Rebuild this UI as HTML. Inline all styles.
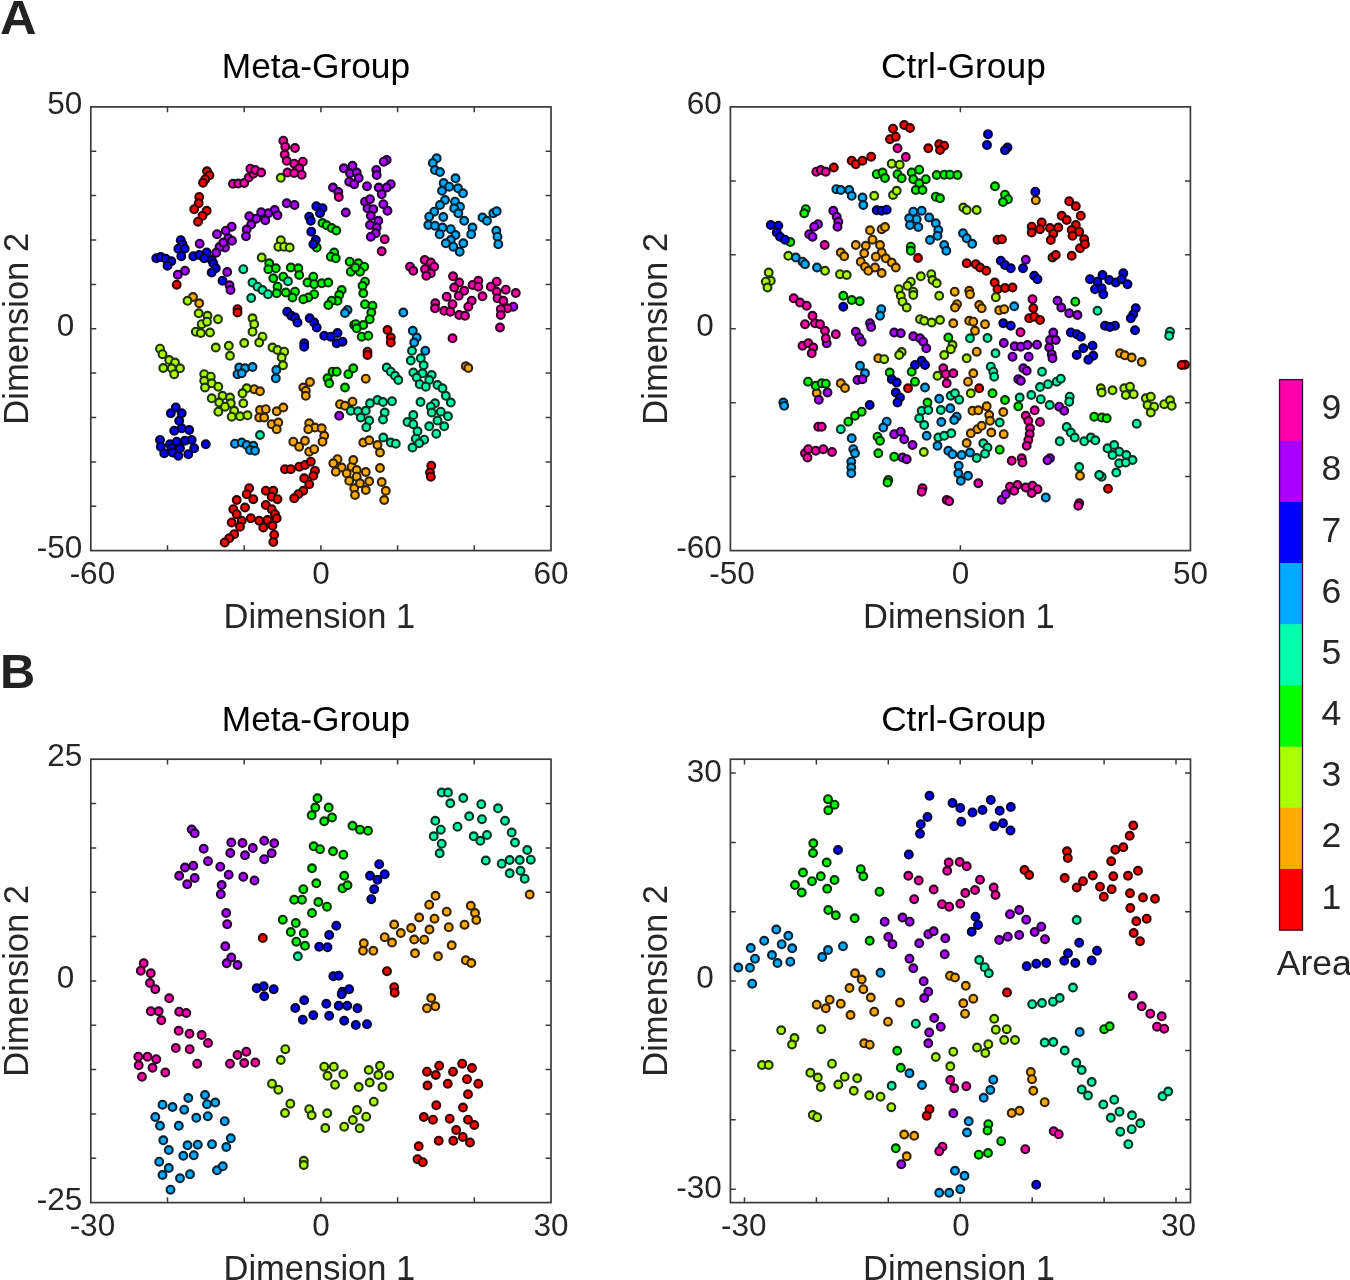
<!DOCTYPE html>
<html><head><meta charset="utf-8"><title>t-SNE</title>
<style>html,body{margin:0;padding:0;background:#fff}svg{display:block;font-family:"Liberation Sans",Arial,sans-serif}</style>
</head><body>
<svg width="1350" height="1280" viewBox="0 0 1350 1280">
<defs><filter id="soft" x="-5%" y="-5%" width="110%" height="110%"><feGaussianBlur stdDeviation="0.75"/></filter></defs>
<rect width="1350" height="1280" fill="#fff"/>
<g stroke-width="2.1" filter="url(#soft)">
<g fill="#ff0000" stroke="#330000"><circle cx="207.0" cy="171.3" r="3.9"/><circle cx="209.5" cy="175.3" r="3.9"/><circle cx="205.3" cy="179.2" r="3.9"/><circle cx="203.0" cy="182.8" r="3.9"/><circle cx="199.2" cy="197.0" r="3.9"/><circle cx="198.7" cy="203.3" r="3.9"/><circle cx="194.2" cy="209.2" r="3.9"/><circle cx="206.7" cy="210.8" r="3.9"/><circle cx="202.5" cy="215.8" r="3.9"/><circle cx="198.0" cy="221.7" r="3.9"/><circle cx="176.7" cy="284.7" r="3.9"/><circle cx="237.5" cy="309.2" r="3.9"/><circle cx="237.5" cy="312.5" r="3.9"/><circle cx="387.5" cy="330.0" r="3.9"/><circle cx="285.0" cy="469.2" r="3.9"/><circle cx="290.8" cy="469.2" r="3.9"/><circle cx="299.2" cy="466.7" r="3.9"/><circle cx="305.0" cy="465.0" r="3.9"/><circle cx="310.8" cy="461.7" r="3.9"/><circle cx="315.0" cy="470.8" r="3.9"/><circle cx="313.3" cy="475.8" r="3.9"/><circle cx="304.2" cy="478.3" r="3.9"/><circle cx="309.2" cy="484.2" r="3.9"/><circle cx="303.3" cy="490.8" r="3.9"/><circle cx="298.3" cy="494.2" r="3.9"/><circle cx="294.2" cy="498.3" r="3.9"/><circle cx="249.2" cy="488.3" r="3.9"/><circle cx="246.7" cy="494.2" r="3.9"/><circle cx="253.3" cy="499.2" r="3.9"/><circle cx="236.7" cy="500.0" r="3.9"/><circle cx="265.8" cy="490.8" r="3.9"/><circle cx="273.3" cy="490.8" r="3.9"/><circle cx="271.7" cy="496.7" r="3.9"/><circle cx="277.5" cy="499.2" r="3.9"/><circle cx="245.0" cy="507.5" r="3.9"/><circle cx="233.3" cy="509.2" r="3.9"/><circle cx="265.8" cy="505.0" r="3.9"/><circle cx="271.7" cy="509.2" r="3.9"/><circle cx="236.7" cy="514.2" r="3.9"/><circle cx="275.0" cy="514.2" r="3.9"/><circle cx="250.8" cy="518.3" r="3.9"/><circle cx="276.7" cy="518.3" r="3.9"/><circle cx="241.7" cy="520.8" r="3.9"/><circle cx="259.2" cy="520.8" r="3.9"/><circle cx="267.5" cy="520.0" r="3.9"/><circle cx="231.7" cy="522.5" r="3.9"/><circle cx="263.3" cy="527.5" r="3.9"/><circle cx="240.0" cy="526.7" r="3.9"/><circle cx="272.5" cy="525.8" r="3.9"/><circle cx="390.8" cy="337.5" r="3.9"/><circle cx="390.8" cy="342.5" r="3.9"/><circle cx="367.5" cy="351.7" r="3.9"/><circle cx="367.5" cy="355.0" r="3.9"/><circle cx="431.3" cy="465.8" r="3.9"/><circle cx="430.0" cy="472.5" r="3.9"/><circle cx="430.8" cy="476.7" r="3.9"/><circle cx="234.2" cy="534.2" r="3.9"/><circle cx="229.2" cy="538.3" r="3.9"/><circle cx="224.7" cy="542.5" r="3.9"/><circle cx="274.2" cy="534.7" r="3.9"/><circle cx="273.3" cy="542.0" r="3.9"/></g>
<g fill="#ffaa00" stroke="#332200"><circle cx="193.0" cy="297.0" r="3.9"/><circle cx="199.2" cy="303.3" r="3.9"/><circle cx="254.2" cy="389.2" r="3.9"/><circle cx="260.0" cy="391.3" r="3.9"/><circle cx="310.0" cy="382.0" r="3.9"/><circle cx="303.3" cy="387.5" r="3.9"/><circle cx="305.8" cy="390.8" r="3.9"/><circle cx="305.8" cy="395.8" r="3.9"/><circle cx="260.0" cy="410.0" r="3.9"/><circle cx="265.8" cy="409.2" r="3.9"/><circle cx="259.2" cy="417.5" r="3.9"/><circle cx="264.2" cy="417.5" r="3.9"/><circle cx="276.7" cy="411.3" r="3.9"/><circle cx="283.3" cy="407.5" r="3.9"/><circle cx="271.7" cy="424.2" r="3.9"/><circle cx="278.3" cy="422.5" r="3.9"/><circle cx="276.7" cy="429.2" r="3.9"/><circle cx="309.2" cy="423.3" r="3.9"/><circle cx="315.0" cy="427.5" r="3.9"/><circle cx="321.7" cy="428.3" r="3.9"/><circle cx="308.3" cy="429.2" r="3.9"/><circle cx="324.2" cy="435.8" r="3.9"/><circle cx="322.5" cy="441.7" r="3.9"/><circle cx="293.3" cy="441.7" r="3.9"/><circle cx="299.2" cy="446.7" r="3.9"/><circle cx="305.0" cy="440.8" r="3.9"/><circle cx="309.2" cy="451.7" r="3.9"/><circle cx="314.2" cy="449.2" r="3.9"/><circle cx="337.5" cy="459.2" r="3.9"/><circle cx="333.3" cy="463.3" r="3.9"/><circle cx="341.7" cy="467.5" r="3.9"/><circle cx="335.8" cy="471.7" r="3.9"/><circle cx="346.7" cy="473.3" r="3.9"/><circle cx="351.7" cy="466.7" r="3.9"/><circle cx="353.3" cy="460.0" r="3.9"/><circle cx="349.2" cy="480.8" r="3.9"/><circle cx="354.2" cy="488.3" r="3.9"/><circle cx="355.0" cy="495.0" r="3.9"/><circle cx="340.0" cy="404.2" r="3.9"/><circle cx="345.0" cy="405.8" r="3.9"/><circle cx="352.5" cy="401.7" r="3.9"/><circle cx="465.8" cy="366.3" r="3.9"/><circle cx="468.3" cy="368.0" r="3.9"/><circle cx="365.8" cy="378.7" r="3.9"/><circle cx="363.3" cy="442.5" r="3.9"/><circle cx="369.2" cy="440.3" r="3.9"/><circle cx="377.5" cy="445.0" r="3.9"/><circle cx="380.0" cy="452.5" r="3.9"/><circle cx="380.0" cy="468.0" r="3.9"/><circle cx="381.7" cy="482.0" r="3.9"/><circle cx="385.8" cy="490.8" r="3.9"/><circle cx="384.2" cy="500.0" r="3.9"/><circle cx="356.7" cy="470.0" r="3.9"/><circle cx="365.8" cy="472.0" r="3.9"/><circle cx="356.7" cy="476.7" r="3.9"/><circle cx="360.0" cy="483.3" r="3.9"/><circle cx="369.2" cy="481.3" r="3.9"/><circle cx="365.8" cy="490.0" r="3.9"/></g>
<g fill="#aaff00" stroke="#223300"><circle cx="280.8" cy="177.8" r="3.9"/><circle cx="280.8" cy="240.3" r="3.9"/><circle cx="278.3" cy="246.7" r="3.9"/><circle cx="284.2" cy="246.7" r="3.9"/><circle cx="289.7" cy="247.5" r="3.9"/><circle cx="261.7" cy="257.5" r="3.9"/><circle cx="187.5" cy="300.8" r="3.9"/><circle cx="198.7" cy="313.3" r="3.9"/><circle cx="207.5" cy="315.8" r="3.9"/><circle cx="218.0" cy="319.2" r="3.9"/><circle cx="201.7" cy="324.2" r="3.9"/><circle cx="207.0" cy="321.7" r="3.9"/><circle cx="252.5" cy="318.3" r="3.9"/><circle cx="254.2" cy="324.2" r="3.9"/><circle cx="195.8" cy="331.7" r="3.9"/><circle cx="210.0" cy="332.5" r="3.9"/><circle cx="252.5" cy="331.7" r="3.9"/><circle cx="200.8" cy="333.0" r="3.9"/><circle cx="262.5" cy="336.7" r="3.9"/><circle cx="259.2" cy="342.5" r="3.9"/><circle cx="244.2" cy="343.0" r="3.9"/><circle cx="215.8" cy="347.5" r="3.9"/><circle cx="228.8" cy="345.8" r="3.9"/><circle cx="230.0" cy="355.8" r="3.9"/><circle cx="160.0" cy="348.7" r="3.9"/><circle cx="162.5" cy="354.2" r="3.9"/><circle cx="169.2" cy="360.0" r="3.9"/><circle cx="175.0" cy="362.5" r="3.9"/><circle cx="163.3" cy="368.0" r="3.9"/><circle cx="171.7" cy="368.3" r="3.9"/><circle cx="180.0" cy="368.3" r="3.9"/><circle cx="174.2" cy="374.2" r="3.9"/><circle cx="272.5" cy="347.5" r="3.9"/><circle cx="277.5" cy="350.0" r="3.9"/><circle cx="284.2" cy="351.7" r="3.9"/><circle cx="281.7" cy="357.5" r="3.9"/><circle cx="283.0" cy="365.3" r="3.9"/><circle cx="204.2" cy="374.2" r="3.9"/><circle cx="210.8" cy="376.7" r="3.9"/><circle cx="204.2" cy="380.8" r="3.9"/><circle cx="211.7" cy="383.3" r="3.9"/><circle cx="205.0" cy="387.5" r="3.9"/><circle cx="218.3" cy="386.7" r="3.9"/><circle cx="222.5" cy="395.8" r="3.9"/><circle cx="230.0" cy="397.5" r="3.9"/><circle cx="211.7" cy="398.3" r="3.9"/><circle cx="219.2" cy="402.5" r="3.9"/><circle cx="230.8" cy="403.3" r="3.9"/><circle cx="225.0" cy="406.7" r="3.9"/><circle cx="218.3" cy="411.7" r="3.9"/><circle cx="234.2" cy="410.8" r="3.9"/><circle cx="231.7" cy="416.7" r="3.9"/><circle cx="240.0" cy="416.3" r="3.9"/><circle cx="247.5" cy="415.3" r="3.9"/><circle cx="246.7" cy="388.3" r="3.9"/><circle cx="242.5" cy="393.3" r="3.9"/><circle cx="243.3" cy="403.3" r="3.9"/></g>
<g fill="#00ff00" stroke="#003300"><circle cx="322.5" cy="223.0" r="3.9"/><circle cx="326.7" cy="225.3" r="3.9"/><circle cx="331.7" cy="228.0" r="3.9"/><circle cx="336.3" cy="230.5" r="3.9"/><circle cx="316.7" cy="247.5" r="3.9"/><circle cx="334.2" cy="252.5" r="3.9"/><circle cx="330.8" cy="256.7" r="3.9"/><circle cx="335.8" cy="258.3" r="3.9"/><circle cx="349.7" cy="261.7" r="3.9"/><circle cx="350.8" cy="271.7" r="3.9"/><circle cx="269.2" cy="263.3" r="3.9"/><circle cx="275.8" cy="268.3" r="3.9"/><circle cx="268.3" cy="269.2" r="3.9"/><circle cx="290.8" cy="267.5" r="3.9"/><circle cx="298.3" cy="268.3" r="3.9"/><circle cx="299.2" cy="275.0" r="3.9"/><circle cx="283.3" cy="276.7" r="3.9"/><circle cx="273.3" cy="278.3" r="3.9"/><circle cx="313.3" cy="276.7" r="3.9"/><circle cx="307.5" cy="282.5" r="3.9"/><circle cx="314.2" cy="284.2" r="3.9"/><circle cx="321.7" cy="283.3" r="3.9"/><circle cx="328.3" cy="282.5" r="3.9"/><circle cx="277.5" cy="286.7" r="3.9"/><circle cx="276.7" cy="293.3" r="3.9"/><circle cx="285.8" cy="292.5" r="3.9"/><circle cx="295.0" cy="291.7" r="3.9"/><circle cx="292.5" cy="297.5" r="3.9"/><circle cx="314.2" cy="294.2" r="3.9"/><circle cx="308.3" cy="297.5" r="3.9"/><circle cx="303.3" cy="299.2" r="3.9"/><circle cx="341.7" cy="290.0" r="3.9"/><circle cx="339.2" cy="295.0" r="3.9"/><circle cx="337.5" cy="300.8" r="3.9"/><circle cx="331.7" cy="300.8" r="3.9"/><circle cx="328.3" cy="305.0" r="3.9"/><circle cx="354.2" cy="325.0" r="3.9"/><circle cx="358.3" cy="263.3" r="3.9"/><circle cx="364.2" cy="266.7" r="3.9"/><circle cx="360.0" cy="271.7" r="3.9"/><circle cx="355.3" cy="267.5" r="3.9"/><circle cx="365.0" cy="281.7" r="3.9"/><circle cx="362.5" cy="285.8" r="3.9"/><circle cx="363.3" cy="293.3" r="3.9"/><circle cx="365.0" cy="304.2" r="3.9"/><circle cx="372.5" cy="305.8" r="3.9"/><circle cx="371.3" cy="312.5" r="3.9"/><circle cx="369.7" cy="319.2" r="3.9"/><circle cx="363.3" cy="325.0" r="3.9"/><circle cx="355.8" cy="324.2" r="3.9"/><circle cx="356.7" cy="328.3" r="3.9"/><circle cx="332.5" cy="371.7" r="3.9"/><circle cx="327.5" cy="378.3" r="3.9"/><circle cx="329.2" cy="383.3" r="3.9"/><circle cx="336.7" cy="371.7" r="3.9"/><circle cx="345.0" cy="387.5" r="3.9"/><circle cx="348.3" cy="374.2" r="3.9"/><circle cx="353.3" cy="368.3" r="3.9"/><circle cx="361.7" cy="336.7" r="3.9"/><circle cx="368.3" cy="335.8" r="3.9"/></g>
<g fill="#00ffaa" stroke="#003322"><circle cx="243.3" cy="269.2" r="3.9"/><circle cx="252.5" cy="282.5" r="3.9"/><circle cx="257.5" cy="286.7" r="3.9"/><circle cx="262.5" cy="290.0" r="3.9"/><circle cx="268.0" cy="294.2" r="3.9"/><circle cx="251.2" cy="298.0" r="3.9"/><circle cx="288.0" cy="281.3" r="3.9"/><circle cx="260.0" cy="435.0" r="3.9"/><circle cx="350.8" cy="410.8" r="3.9"/><circle cx="412.0" cy="350.8" r="3.9"/><circle cx="410.8" cy="360.5" r="3.9"/><circle cx="420.8" cy="358.3" r="3.9"/><circle cx="423.7" cy="365.3" r="3.9"/><circle cx="413.3" cy="372.5" r="3.9"/><circle cx="422.5" cy="373.3" r="3.9"/><circle cx="416.7" cy="377.5" r="3.9"/><circle cx="431.7" cy="375.0" r="3.9"/><circle cx="429.2" cy="380.0" r="3.9"/><circle cx="419.7" cy="384.2" r="3.9"/><circle cx="425.8" cy="386.7" r="3.9"/><circle cx="437.5" cy="385.0" r="3.9"/><circle cx="442.5" cy="388.3" r="3.9"/><circle cx="445.8" cy="395.8" r="3.9"/><circle cx="450.8" cy="402.5" r="3.9"/><circle cx="386.7" cy="367.5" r="3.9"/><circle cx="390.8" cy="371.7" r="3.9"/><circle cx="395.0" cy="375.8" r="3.9"/><circle cx="398.3" cy="380.0" r="3.9"/><circle cx="420.5" cy="402.0" r="3.9"/><circle cx="435.0" cy="403.3" r="3.9"/><circle cx="430.8" cy="406.7" r="3.9"/><circle cx="431.7" cy="412.5" r="3.9"/><circle cx="440.8" cy="411.7" r="3.9"/><circle cx="448.0" cy="416.3" r="3.9"/><circle cx="437.5" cy="420.5" r="3.9"/><circle cx="429.2" cy="426.3" r="3.9"/><circle cx="444.2" cy="426.3" r="3.9"/><circle cx="436.3" cy="433.7" r="3.9"/><circle cx="413.3" cy="415.0" r="3.9"/><circle cx="407.5" cy="422.0" r="3.9"/><circle cx="413.3" cy="424.2" r="3.9"/><circle cx="417.5" cy="431.3" r="3.9"/><circle cx="415.8" cy="438.7" r="3.9"/><circle cx="424.2" cy="439.7" r="3.9"/><circle cx="419.2" cy="443.3" r="3.9"/><circle cx="412.5" cy="447.5" r="3.9"/><circle cx="370.0" cy="403.3" r="3.9"/><circle cx="377.5" cy="400.0" r="3.9"/><circle cx="383.0" cy="402.0" r="3.9"/><circle cx="392.0" cy="401.3" r="3.9"/><circle cx="358.0" cy="411.3" r="3.9"/><circle cx="365.8" cy="410.8" r="3.9"/><circle cx="360.8" cy="417.5" r="3.9"/><circle cx="369.2" cy="420.5" r="3.9"/><circle cx="366.3" cy="427.2" r="3.9"/><circle cx="384.7" cy="412.5" r="3.9"/><circle cx="383.0" cy="419.5" r="3.9"/><circle cx="383.3" cy="437.5" r="3.9"/><circle cx="390.8" cy="442.5" r="3.9"/><circle cx="395.8" cy="443.7" r="3.9"/></g>
<g fill="#00aaff" stroke="#002233"><circle cx="347.5" cy="310.0" r="3.9"/><circle cx="345.0" cy="313.0" r="3.9"/><circle cx="436.7" cy="158.3" r="3.9"/><circle cx="432.8" cy="163.0" r="3.9"/><circle cx="435.0" cy="170.0" r="3.9"/><circle cx="440.0" cy="172.0" r="3.9"/><circle cx="455.5" cy="178.3" r="3.9"/><circle cx="443.7" cy="183.0" r="3.9"/><circle cx="449.2" cy="186.7" r="3.9"/><circle cx="442.0" cy="190.8" r="3.9"/><circle cx="458.0" cy="188.3" r="3.9"/><circle cx="463.0" cy="193.3" r="3.9"/><circle cx="445.0" cy="200.0" r="3.9"/><circle cx="455.0" cy="201.7" r="3.9"/><circle cx="440.0" cy="205.0" r="3.9"/><circle cx="460.0" cy="206.7" r="3.9"/><circle cx="454.2" cy="208.3" r="3.9"/><circle cx="458.3" cy="213.3" r="3.9"/><circle cx="434.2" cy="211.7" r="3.9"/><circle cx="429.2" cy="216.7" r="3.9"/><circle cx="443.3" cy="217.0" r="3.9"/><circle cx="464.2" cy="220.8" r="3.9"/><circle cx="428.3" cy="225.0" r="3.9"/><circle cx="435.0" cy="225.8" r="3.9"/><circle cx="442.5" cy="227.5" r="3.9"/><circle cx="450.8" cy="229.2" r="3.9"/><circle cx="472.5" cy="227.5" r="3.9"/><circle cx="471.2" cy="234.2" r="3.9"/><circle cx="439.7" cy="234.2" r="3.9"/><circle cx="455.5" cy="235.0" r="3.9"/><circle cx="450.8" cy="240.0" r="3.9"/><circle cx="445.8" cy="243.3" r="3.9"/><circle cx="463.3" cy="243.3" r="3.9"/><circle cx="453.3" cy="246.7" r="3.9"/><circle cx="459.7" cy="251.7" r="3.9"/><circle cx="482.5" cy="217.5" r="3.9"/><circle cx="487.0" cy="220.8" r="3.9"/><circle cx="493.3" cy="213.3" r="3.9"/><circle cx="496.7" cy="211.3" r="3.9"/><circle cx="496.3" cy="230.8" r="3.9"/><circle cx="497.5" cy="236.7" r="3.9"/><circle cx="498.3" cy="244.2" r="3.9"/><circle cx="403.3" cy="312.5" r="3.9"/><circle cx="412.8" cy="330.8" r="3.9"/><circle cx="239.2" cy="367.5" r="3.9"/><circle cx="245.0" cy="368.3" r="3.9"/><circle cx="252.5" cy="367.0" r="3.9"/><circle cx="237.5" cy="374.2" r="3.9"/><circle cx="241.7" cy="373.3" r="3.9"/><circle cx="276.3" cy="370.0" r="3.9"/><circle cx="275.8" cy="378.3" r="3.9"/><circle cx="235.0" cy="443.7" r="3.9"/><circle cx="241.7" cy="442.5" r="3.9"/><circle cx="246.7" cy="445.0" r="3.9"/><circle cx="253.3" cy="445.8" r="3.9"/><circle cx="250.0" cy="450.0" r="3.9"/><circle cx="255.0" cy="450.8" r="3.9"/><circle cx="416.7" cy="337.5" r="3.9"/><circle cx="414.2" cy="342.5" r="3.9"/><circle cx="425.3" cy="350.8" r="3.9"/></g>
<g fill="#0000ff" stroke="#000033"><circle cx="180.8" cy="240.3" r="3.9"/><circle cx="182.5" cy="244.2" r="3.9"/><circle cx="178.3" cy="248.7" r="3.9"/><circle cx="184.7" cy="248.7" r="3.9"/><circle cx="181.3" cy="256.2" r="3.9"/><circle cx="156.3" cy="258.3" r="3.9"/><circle cx="160.8" cy="257.0" r="3.9"/><circle cx="165.8" cy="258.7" r="3.9"/><circle cx="171.3" cy="261.3" r="3.9"/><circle cx="167.5" cy="265.8" r="3.9"/><circle cx="193.3" cy="256.2" r="3.9"/><circle cx="199.2" cy="255.0" r="3.9"/><circle cx="206.7" cy="252.5" r="3.9"/><circle cx="204.2" cy="258.3" r="3.9"/><circle cx="211.7" cy="260.0" r="3.9"/><circle cx="213.3" cy="263.3" r="3.9"/><circle cx="215.8" cy="268.3" r="3.9"/><circle cx="211.7" cy="272.5" r="3.9"/><circle cx="222.5" cy="280.8" r="3.9"/><circle cx="316.3" cy="206.3" r="3.9"/><circle cx="322.5" cy="208.3" r="3.9"/><circle cx="320.0" cy="213.3" r="3.9"/><circle cx="309.2" cy="216.7" r="3.9"/><circle cx="310.8" cy="220.8" r="3.9"/><circle cx="311.3" cy="231.7" r="3.9"/><circle cx="315.8" cy="240.0" r="3.9"/><circle cx="313.3" cy="244.2" r="3.9"/><circle cx="287.2" cy="311.7" r="3.9"/><circle cx="291.3" cy="315.8" r="3.9"/><circle cx="295.0" cy="317.5" r="3.9"/><circle cx="297.5" cy="322.5" r="3.9"/><circle cx="309.7" cy="318.3" r="3.9"/><circle cx="314.2" cy="322.5" r="3.9"/><circle cx="316.7" cy="327.5" r="3.9"/><circle cx="304.2" cy="343.3" r="3.9"/><circle cx="304.2" cy="346.7" r="3.9"/><circle cx="324.2" cy="335.8" r="3.9"/><circle cx="330.8" cy="336.7" r="3.9"/><circle cx="337.5" cy="333.0" r="3.9"/><circle cx="336.7" cy="343.3" r="3.9"/><circle cx="342.5" cy="341.7" r="3.9"/><circle cx="170.8" cy="413.3" r="3.9"/><circle cx="175.8" cy="407.5" r="3.9"/><circle cx="181.7" cy="413.3" r="3.9"/><circle cx="179.2" cy="420.8" r="3.9"/><circle cx="174.2" cy="430.8" r="3.9"/><circle cx="181.7" cy="428.3" r="3.9"/><circle cx="189.2" cy="430.0" r="3.9"/><circle cx="160.0" cy="440.0" r="3.9"/><circle cx="170.0" cy="444.2" r="3.9"/><circle cx="176.7" cy="441.7" r="3.9"/><circle cx="185.0" cy="440.8" r="3.9"/><circle cx="191.7" cy="440.0" r="3.9"/><circle cx="160.8" cy="446.7" r="3.9"/><circle cx="171.7" cy="448.3" r="3.9"/><circle cx="180.0" cy="448.3" r="3.9"/><circle cx="194.2" cy="448.3" r="3.9"/><circle cx="164.2" cy="453.3" r="3.9"/><circle cx="172.5" cy="452.5" r="3.9"/><circle cx="178.3" cy="455.8" r="3.9"/><circle cx="188.3" cy="454.2" r="3.9"/><circle cx="205.8" cy="444.2" r="3.9"/></g>
<g fill="#aa00ff" stroke="#220033"><circle cx="343.8" cy="168.3" r="3.9"/><circle cx="352.5" cy="165.8" r="3.9"/><circle cx="350.0" cy="173.3" r="3.9"/><circle cx="349.2" cy="181.7" r="3.9"/><circle cx="354.2" cy="184.2" r="3.9"/><circle cx="333.0" cy="187.5" r="3.9"/><circle cx="338.3" cy="192.0" r="3.9"/><circle cx="345.8" cy="212.5" r="3.9"/><circle cx="286.7" cy="203.3" r="3.9"/><circle cx="294.5" cy="205.0" r="3.9"/><circle cx="274.7" cy="210.0" r="3.9"/><circle cx="277.5" cy="215.3" r="3.9"/><circle cx="268.3" cy="213.3" r="3.9"/><circle cx="261.2" cy="212.2" r="3.9"/><circle cx="265.3" cy="220.3" r="3.9"/><circle cx="256.2" cy="218.7" r="3.9"/><circle cx="249.3" cy="216.3" r="3.9"/><circle cx="251.2" cy="224.5" r="3.9"/><circle cx="246.7" cy="229.5" r="3.9"/><circle cx="246.0" cy="236.2" r="3.9"/><circle cx="231.7" cy="226.7" r="3.9"/><circle cx="225.8" cy="230.8" r="3.9"/><circle cx="217.0" cy="234.2" r="3.9"/><circle cx="228.3" cy="238.3" r="3.9"/><circle cx="232.0" cy="240.8" r="3.9"/><circle cx="225.0" cy="247.5" r="3.9"/><circle cx="219.5" cy="247.0" r="3.9"/><circle cx="216.2" cy="252.8" r="3.9"/><circle cx="223.3" cy="242.5" r="3.9"/><circle cx="199.7" cy="243.7" r="3.9"/><circle cx="185.0" cy="270.8" r="3.9"/><circle cx="177.8" cy="274.7" r="3.9"/><circle cx="227.2" cy="272.0" r="3.9"/><circle cx="229.5" cy="285.3" r="3.9"/><circle cx="230.5" cy="290.0" r="3.9"/><circle cx="356.7" cy="172.5" r="3.9"/><circle cx="358.7" cy="178.0" r="3.9"/><circle cx="367.0" cy="186.2" r="3.9"/><circle cx="386.7" cy="160.0" r="3.9"/><circle cx="383.7" cy="161.7" r="3.9"/><circle cx="376.3" cy="170.0" r="3.9"/><circle cx="376.7" cy="175.0" r="3.9"/><circle cx="390.8" cy="184.2" r="3.9"/><circle cx="386.7" cy="187.5" r="3.9"/><circle cx="378.7" cy="187.5" r="3.9"/><circle cx="381.7" cy="194.2" r="3.9"/><circle cx="383.3" cy="204.2" r="3.9"/><circle cx="387.5" cy="210.8" r="3.9"/><circle cx="365.0" cy="201.7" r="3.9"/><circle cx="370.0" cy="199.2" r="3.9"/><circle cx="367.5" cy="208.3" r="3.9"/><circle cx="373.3" cy="209.2" r="3.9"/><circle cx="370.8" cy="215.8" r="3.9"/><circle cx="378.3" cy="220.8" r="3.9"/><circle cx="370.0" cy="225.0" r="3.9"/><circle cx="376.7" cy="227.5" r="3.9"/><circle cx="375.8" cy="233.3" r="3.9"/><circle cx="370.8" cy="236.7" r="3.9"/><circle cx="513.3" cy="306.7" r="3.9"/><circle cx="339.2" cy="415.8" r="3.9"/></g>
<g fill="#ff00aa" stroke="#330022"><circle cx="283.3" cy="140.8" r="3.9"/><circle cx="285.3" cy="146.7" r="3.9"/><circle cx="295.0" cy="148.0" r="3.9"/><circle cx="284.7" cy="154.5" r="3.9"/><circle cx="286.7" cy="160.8" r="3.9"/><circle cx="294.2" cy="163.7" r="3.9"/><circle cx="302.8" cy="161.7" r="3.9"/><circle cx="299.2" cy="168.3" r="3.9"/><circle cx="287.5" cy="172.5" r="3.9"/><circle cx="294.2" cy="173.0" r="3.9"/><circle cx="301.7" cy="174.7" r="3.9"/><circle cx="233.0" cy="183.8" r="3.9"/><circle cx="238.3" cy="183.5" r="3.9"/><circle cx="244.2" cy="183.0" r="3.9"/><circle cx="248.7" cy="177.5" r="3.9"/><circle cx="253.3" cy="173.7" r="3.9"/><circle cx="250.3" cy="168.7" r="3.9"/><circle cx="255.3" cy="170.0" r="3.9"/><circle cx="261.2" cy="172.5" r="3.9"/><circle cx="338.8" cy="197.0" r="3.9"/><circle cx="384.7" cy="239.2" r="3.9"/><circle cx="381.7" cy="251.3" r="3.9"/><circle cx="410.0" cy="266.7" r="3.9"/><circle cx="413.3" cy="270.8" r="3.9"/><circle cx="424.7" cy="260.0" r="3.9"/><circle cx="430.8" cy="262.5" r="3.9"/><circle cx="434.2" cy="266.7" r="3.9"/><circle cx="425.0" cy="269.2" r="3.9"/><circle cx="430.8" cy="273.3" r="3.9"/><circle cx="426.3" cy="275.8" r="3.9"/><circle cx="453.0" cy="276.3" r="3.9"/><circle cx="459.2" cy="282.5" r="3.9"/><circle cx="454.2" cy="287.5" r="3.9"/><circle cx="464.2" cy="290.8" r="3.9"/><circle cx="458.7" cy="295.8" r="3.9"/><circle cx="446.7" cy="296.7" r="3.9"/><circle cx="452.5" cy="304.2" r="3.9"/><circle cx="435.3" cy="303.3" r="3.9"/><circle cx="435.0" cy="308.3" r="3.9"/><circle cx="444.2" cy="310.8" r="3.9"/><circle cx="450.3" cy="311.7" r="3.9"/><circle cx="459.2" cy="315.0" r="3.9"/><circle cx="465.0" cy="315.8" r="3.9"/><circle cx="471.7" cy="300.8" r="3.9"/><circle cx="468.3" cy="306.7" r="3.9"/><circle cx="478.3" cy="280.8" r="3.9"/><circle cx="472.5" cy="285.0" r="3.9"/><circle cx="478.3" cy="286.7" r="3.9"/><circle cx="482.5" cy="296.3" r="3.9"/><circle cx="496.7" cy="281.7" r="3.9"/><circle cx="490.8" cy="286.7" r="3.9"/><circle cx="496.7" cy="291.7" r="3.9"/><circle cx="505.8" cy="289.7" r="3.9"/><circle cx="515.8" cy="293.0" r="3.9"/><circle cx="497.5" cy="298.3" r="3.9"/><circle cx="503.3" cy="300.8" r="3.9"/><circle cx="507.5" cy="308.3" r="3.9"/><circle cx="500.8" cy="309.2" r="3.9"/><circle cx="500.8" cy="315.0" r="3.9"/><circle cx="500.0" cy="327.5" r="3.9"/><circle cx="452.5" cy="338.3" r="3.9"/></g>
</g>
<rect x="90.8" y="106.9" width="460.2" height="443.70000000000005" fill="none" stroke="#3a3a3a" stroke-width="1.7"/>
<path d="M167.5 550.6v-5.4M167.5 106.9v5.4M244.2 550.6v-5.4M244.2 106.9v5.4M320.9 550.6v-5.4M320.9 106.9v5.4M397.6 550.6v-5.4M397.6 106.9v5.4M474.3 550.6v-5.4M474.3 106.9v5.4M90.8 151.3h5.4M551 151.3h-5.4M90.8 195.6h5.4M551 195.6h-5.4M90.8 240.0h5.4M551 240.0h-5.4M90.8 284.4h5.4M551 284.4h-5.4M90.8 328.8h5.4M551 328.8h-5.4M90.8 373.1h5.4M551 373.1h-5.4M90.8 417.5h5.4M551 417.5h-5.4M90.8 461.9h5.4M551 461.9h-5.4M90.8 506.2h5.4M551 506.2h-5.4" stroke="#3a3a3a" stroke-width="1.5" fill="none"/>
<text x="92.4" y="583.8" font-size="31.5" text-anchor="middle" fill="#262626">-60</text>
<text x="320.9" y="583.8" font-size="31.5" text-anchor="middle" fill="#262626">0</text>
<text x="551.0" y="583.8" font-size="31.5" text-anchor="middle" fill="#262626">60</text>
<text x="82.3" y="114.0" font-size="31.5" text-anchor="end" fill="#262626">50</text>
<text x="74.3" y="335.9" font-size="31.5" text-anchor="end" fill="#262626">0</text>
<text x="82.3" y="557.7" font-size="31.5" text-anchor="end" fill="#262626">-50</text>
<text x="315.9" y="78.4" font-size="35.3" text-anchor="middle" fill="#000">Meta-Group</text>
<text x="319.4" y="627.6" font-size="34.5" text-anchor="middle" fill="#262626">Dimension 1</text>
<text transform="translate(27.799999999999997,328.8) rotate(-90)" font-size="34.5" text-anchor="middle" fill="#262626">Dimension 2</text>
<g stroke-width="2.1" filter="url(#soft)">
<g fill="#ff0000" stroke="#330000"><circle cx="893.0" cy="128.7" r="3.9"/><circle cx="904.2" cy="125.0" r="3.9"/><circle cx="910.0" cy="128.0" r="3.9"/><circle cx="890.0" cy="139.2" r="3.9"/><circle cx="895.8" cy="136.7" r="3.9"/><circle cx="928.3" cy="148.3" r="3.9"/><circle cx="939.2" cy="144.2" r="3.9"/><circle cx="944.2" cy="145.8" r="3.9"/><circle cx="940.0" cy="150.0" r="3.9"/><circle cx="851.7" cy="160.8" r="3.9"/><circle cx="855.8" cy="164.2" r="3.9"/><circle cx="862.5" cy="160.8" r="3.9"/><circle cx="871.2" cy="156.7" r="3.9"/><circle cx="833.8" cy="167.5" r="3.9"/><circle cx="918.0" cy="258.0" r="3.9"/><circle cx="966.7" cy="263.3" r="3.9"/><circle cx="975.8" cy="264.2" r="3.9"/><circle cx="980.0" cy="267.5" r="3.9"/><circle cx="1069.2" cy="201.3" r="3.9"/><circle cx="1075.8" cy="206.3" r="3.9"/><circle cx="1080.8" cy="215.8" r="3.9"/><circle cx="1061.7" cy="215.8" r="3.9"/><circle cx="1066.7" cy="220.0" r="3.9"/><circle cx="1075.8" cy="225.0" r="3.9"/><circle cx="1041.7" cy="222.5" r="3.9"/><circle cx="1031.7" cy="226.7" r="3.9"/><circle cx="1040.0" cy="229.2" r="3.9"/><circle cx="1050.0" cy="228.0" r="3.9"/><circle cx="1058.3" cy="227.5" r="3.9"/><circle cx="1031.7" cy="232.5" r="3.9"/><circle cx="1053.3" cy="233.7" r="3.9"/><circle cx="1050.8" cy="240.0" r="3.9"/><circle cx="1071.7" cy="230.0" r="3.9"/><circle cx="1079.2" cy="231.7" r="3.9"/><circle cx="1072.5" cy="235.8" r="3.9"/><circle cx="1084.2" cy="239.2" r="3.9"/><circle cx="1080.0" cy="248.3" r="3.9"/><circle cx="1085.0" cy="244.2" r="3.9"/><circle cx="997.5" cy="239.7" r="3.9"/><circle cx="1002.0" cy="239.2" r="3.9"/><circle cx="1052.5" cy="257.5" r="3.9"/><circle cx="1055.8" cy="255.0" r="3.9"/><circle cx="1071.7" cy="255.8" r="3.9"/><circle cx="986.3" cy="270.8" r="3.9"/><circle cx="994.7" cy="282.5" r="3.9"/><circle cx="997.5" cy="289.2" r="3.9"/><circle cx="1005.0" cy="288.0" r="3.9"/><circle cx="1012.5" cy="287.5" r="3.9"/><circle cx="1033.3" cy="308.3" r="3.9"/><circle cx="1029.2" cy="318.3" r="3.9"/><circle cx="1034.2" cy="316.7" r="3.9"/><circle cx="1040.0" cy="320.0" r="3.9"/><circle cx="908.0" cy="388.3" r="3.9"/><circle cx="979.2" cy="388.3" r="3.9"/><circle cx="1185.0" cy="364.7" r="3.9"/><circle cx="1181.7" cy="365.0" r="3.9"/><circle cx="1108.0" cy="488.7" r="3.9"/></g>
<g fill="#ffaa00" stroke="#332200"><circle cx="870.0" cy="230.3" r="3.9"/><circle cx="881.7" cy="229.2" r="3.9"/><circle cx="885.0" cy="227.0" r="3.9"/><circle cx="872.5" cy="239.7" r="3.9"/><circle cx="855.8" cy="245.0" r="3.9"/><circle cx="865.8" cy="245.8" r="3.9"/><circle cx="880.0" cy="245.0" r="3.9"/><circle cx="864.2" cy="253.3" r="3.9"/><circle cx="881.7" cy="252.5" r="3.9"/><circle cx="875.8" cy="256.7" r="3.9"/><circle cx="885.8" cy="258.3" r="3.9"/><circle cx="860.8" cy="261.7" r="3.9"/><circle cx="891.7" cy="262.5" r="3.9"/><circle cx="865.0" cy="266.7" r="3.9"/><circle cx="875.0" cy="267.5" r="3.9"/><circle cx="895.8" cy="267.5" r="3.9"/><circle cx="868.3" cy="270.8" r="3.9"/><circle cx="881.7" cy="273.0" r="3.9"/><circle cx="840.8" cy="252.5" r="3.9"/><circle cx="844.2" cy="256.3" r="3.9"/><circle cx="954.7" cy="291.7" r="3.9"/><circle cx="969.2" cy="290.8" r="3.9"/><circle cx="970.0" cy="294.2" r="3.9"/><circle cx="957.0" cy="304.2" r="3.9"/><circle cx="955.0" cy="307.5" r="3.9"/><circle cx="979.2" cy="305.0" r="3.9"/><circle cx="953.3" cy="323.3" r="3.9"/><circle cx="969.2" cy="320.8" r="3.9"/><circle cx="973.3" cy="321.7" r="3.9"/><circle cx="1035.8" cy="200.3" r="3.9"/><circle cx="981.7" cy="308.3" r="3.9"/><circle cx="999.2" cy="310.3" r="3.9"/><circle cx="1004.2" cy="309.2" r="3.9"/><circle cx="985.0" cy="324.2" r="3.9"/><circle cx="878.3" cy="358.3" r="3.9"/><circle cx="975.0" cy="330.8" r="3.9"/><circle cx="976.7" cy="351.7" r="3.9"/><circle cx="973.3" cy="373.3" r="3.9"/><circle cx="968.0" cy="381.7" r="3.9"/><circle cx="840.8" cy="383.3" r="3.9"/><circle cx="845.0" cy="388.0" r="3.9"/><circle cx="816.7" cy="393.0" r="3.9"/><circle cx="972.5" cy="410.8" r="3.9"/><circle cx="978.3" cy="410.3" r="3.9"/><circle cx="970.8" cy="433.3" r="3.9"/><circle cx="977.5" cy="429.2" r="3.9"/><circle cx="966.7" cy="443.0" r="3.9"/><circle cx="986.7" cy="406.3" r="3.9"/><circle cx="989.2" cy="415.0" r="3.9"/><circle cx="990.0" cy="420.8" r="3.9"/><circle cx="981.7" cy="425.8" r="3.9"/><circle cx="1003.3" cy="412.0" r="3.9"/><circle cx="991.3" cy="432.5" r="3.9"/><circle cx="1003.7" cy="434.2" r="3.9"/><circle cx="1120.0" cy="353.3" r="3.9"/><circle cx="1124.7" cy="355.3" r="3.9"/><circle cx="1131.7" cy="357.5" r="3.9"/><circle cx="1141.7" cy="362.0" r="3.9"/><circle cx="1080.0" cy="475.8" r="3.9"/></g>
<g fill="#aaff00" stroke="#223300"><circle cx="891.7" cy="163.7" r="3.9"/><circle cx="899.7" cy="164.7" r="3.9"/><circle cx="874.2" cy="195.8" r="3.9"/><circle cx="893.0" cy="195.0" r="3.9"/><circle cx="896.7" cy="190.8" r="3.9"/><circle cx="963.3" cy="207.5" r="3.9"/><circle cx="966.7" cy="210.0" r="3.9"/><circle cx="976.7" cy="210.0" r="3.9"/><circle cx="788.3" cy="255.8" r="3.9"/><circle cx="825.0" cy="270.8" r="3.9"/><circle cx="840.0" cy="274.2" r="3.9"/><circle cx="846.7" cy="275.0" r="3.9"/><circle cx="768.7" cy="272.5" r="3.9"/><circle cx="770.8" cy="280.8" r="3.9"/><circle cx="765.8" cy="281.7" r="3.9"/><circle cx="767.5" cy="287.5" r="3.9"/><circle cx="920.8" cy="276.3" r="3.9"/><circle cx="931.3" cy="274.2" r="3.9"/><circle cx="932.5" cy="280.0" r="3.9"/><circle cx="936.7" cy="283.3" r="3.9"/><circle cx="910.8" cy="281.7" r="3.9"/><circle cx="907.5" cy="285.8" r="3.9"/><circle cx="898.7" cy="289.2" r="3.9"/><circle cx="913.3" cy="291.7" r="3.9"/><circle cx="913.3" cy="295.0" r="3.9"/><circle cx="900.8" cy="295.8" r="3.9"/><circle cx="902.5" cy="301.7" r="3.9"/><circle cx="906.7" cy="307.5" r="3.9"/><circle cx="939.2" cy="295.8" r="3.9"/><circle cx="920.0" cy="319.2" r="3.9"/><circle cx="924.2" cy="320.8" r="3.9"/><circle cx="931.7" cy="322.5" r="3.9"/><circle cx="940.0" cy="320.0" r="3.9"/><circle cx="995.8" cy="297.2" r="3.9"/><circle cx="952.5" cy="345.0" r="3.9"/><circle cx="950.8" cy="349.2" r="3.9"/><circle cx="944.2" cy="355.0" r="3.9"/><circle cx="966.7" cy="358.3" r="3.9"/><circle cx="901.7" cy="352.0" r="3.9"/><circle cx="899.2" cy="355.0" r="3.9"/><circle cx="884.2" cy="359.2" r="3.9"/><circle cx="937.5" cy="375.8" r="3.9"/><circle cx="970.8" cy="393.3" r="3.9"/><circle cx="923.8" cy="452.0" r="3.9"/><circle cx="1100.8" cy="388.3" r="3.9"/><circle cx="1101.7" cy="392.5" r="3.9"/><circle cx="1112.5" cy="390.3" r="3.9"/><circle cx="1124.2" cy="388.3" r="3.9"/><circle cx="1130.0" cy="386.7" r="3.9"/><circle cx="1125.8" cy="395.0" r="3.9"/><circle cx="1133.7" cy="394.2" r="3.9"/><circle cx="1145.8" cy="398.3" r="3.9"/><circle cx="1150.8" cy="396.7" r="3.9"/><circle cx="1147.5" cy="405.0" r="3.9"/><circle cx="1154.2" cy="406.7" r="3.9"/><circle cx="1150.8" cy="412.5" r="3.9"/><circle cx="1164.2" cy="404.2" r="3.9"/><circle cx="1170.0" cy="400.3" r="3.9"/><circle cx="1171.7" cy="405.8" r="3.9"/></g>
<g fill="#00ff00" stroke="#003300"><circle cx="876.7" cy="174.2" r="3.9"/><circle cx="882.5" cy="172.5" r="3.9"/><circle cx="885.0" cy="178.0" r="3.9"/><circle cx="897.5" cy="174.2" r="3.9"/><circle cx="901.7" cy="178.3" r="3.9"/><circle cx="911.7" cy="172.5" r="3.9"/><circle cx="919.2" cy="169.7" r="3.9"/><circle cx="913.3" cy="179.2" r="3.9"/><circle cx="925.8" cy="179.2" r="3.9"/><circle cx="919.2" cy="183.3" r="3.9"/><circle cx="915.8" cy="190.0" r="3.9"/><circle cx="922.5" cy="190.0" r="3.9"/><circle cx="936.7" cy="175.0" r="3.9"/><circle cx="944.2" cy="174.7" r="3.9"/><circle cx="950.0" cy="174.7" r="3.9"/><circle cx="957.5" cy="175.0" r="3.9"/><circle cx="935.8" cy="196.7" r="3.9"/><circle cx="940.0" cy="198.3" r="3.9"/><circle cx="805.8" cy="209.2" r="3.9"/><circle cx="804.2" cy="213.3" r="3.9"/><circle cx="790.3" cy="242.0" r="3.9"/><circle cx="910.8" cy="246.7" r="3.9"/><circle cx="910.8" cy="250.8" r="3.9"/><circle cx="843.3" cy="295.8" r="3.9"/><circle cx="851.7" cy="300.0" r="3.9"/><circle cx="859.7" cy="301.3" r="3.9"/><circle cx="995.0" cy="186.3" r="3.9"/><circle cx="1005.0" cy="194.7" r="3.9"/><circle cx="1008.0" cy="199.2" r="3.9"/><circle cx="1003.0" cy="202.0" r="3.9"/><circle cx="1075.3" cy="301.7" r="3.9"/><circle cx="948.3" cy="337.5" r="3.9"/><circle cx="889.7" cy="372.5" r="3.9"/><circle cx="911.7" cy="371.7" r="3.9"/><circle cx="915.0" cy="381.7" r="3.9"/><circle cx="808.0" cy="381.7" r="3.9"/><circle cx="815.8" cy="385.8" r="3.9"/><circle cx="821.7" cy="383.3" r="3.9"/><circle cx="825.8" cy="383.7" r="3.9"/><circle cx="927.5" cy="402.5" r="3.9"/><circle cx="848.3" cy="421.7" r="3.9"/><circle cx="855.0" cy="415.8" r="3.9"/><circle cx="861.7" cy="411.7" r="3.9"/><circle cx="877.5" cy="436.7" r="3.9"/><circle cx="880.0" cy="440.8" r="3.9"/><circle cx="878.3" cy="453.3" r="3.9"/><circle cx="894.2" cy="456.7" r="3.9"/><circle cx="888.3" cy="480.0" r="3.9"/><circle cx="887.5" cy="482.5" r="3.9"/><circle cx="992.5" cy="393.3" r="3.9"/><circle cx="1005.0" cy="400.0" r="3.9"/><circle cx="1018.3" cy="406.3" r="3.9"/><circle cx="999.7" cy="449.7" r="3.9"/><circle cx="1094.2" cy="416.7" r="3.9"/><circle cx="1101.7" cy="417.5" r="3.9"/><circle cx="1106.7" cy="418.3" r="3.9"/></g>
<g fill="#00ffaa" stroke="#003322"><circle cx="1097.5" cy="310.8" r="3.9"/><circle cx="970.0" cy="338.3" r="3.9"/><circle cx="950.8" cy="395.8" r="3.9"/><circle cx="955.0" cy="393.3" r="3.9"/><circle cx="959.2" cy="399.7" r="3.9"/><circle cx="921.7" cy="410.8" r="3.9"/><circle cx="928.3" cy="410.0" r="3.9"/><circle cx="919.2" cy="418.3" r="3.9"/><circle cx="924.2" cy="425.0" r="3.9"/><circle cx="940.8" cy="410.0" r="3.9"/><circle cx="840.8" cy="429.2" r="3.9"/><circle cx="938.3" cy="437.5" r="3.9"/><circle cx="944.2" cy="435.8" r="3.9"/><circle cx="951.3" cy="433.3" r="3.9"/><circle cx="976.7" cy="458.0" r="3.9"/><circle cx="987.5" cy="338.0" r="3.9"/><circle cx="995.5" cy="353.3" r="3.9"/><circle cx="990.8" cy="366.7" r="3.9"/><circle cx="993.3" cy="371.7" r="3.9"/><circle cx="994.2" cy="376.7" r="3.9"/><circle cx="1042.0" cy="371.7" r="3.9"/><circle cx="1040.0" cy="387.0" r="3.9"/><circle cx="1048.0" cy="384.2" r="3.9"/><circle cx="1056.7" cy="381.7" r="3.9"/><circle cx="1060.8" cy="378.7" r="3.9"/><circle cx="1019.7" cy="397.5" r="3.9"/><circle cx="1031.3" cy="395.0" r="3.9"/><circle cx="1040.8" cy="399.2" r="3.9"/><circle cx="1049.7" cy="405.0" r="3.9"/><circle cx="1069.7" cy="396.7" r="3.9"/><circle cx="1069.2" cy="401.7" r="3.9"/><circle cx="999.7" cy="422.5" r="3.9"/><circle cx="983.3" cy="443.3" r="3.9"/><circle cx="987.5" cy="447.5" r="3.9"/><circle cx="985.0" cy="453.7" r="3.9"/><circle cx="1066.7" cy="427.0" r="3.9"/><circle cx="1070.8" cy="432.5" r="3.9"/><circle cx="1074.7" cy="437.5" r="3.9"/><circle cx="1084.2" cy="441.3" r="3.9"/><circle cx="1090.8" cy="437.5" r="3.9"/><circle cx="1095.3" cy="440.3" r="3.9"/><circle cx="1059.7" cy="441.3" r="3.9"/><circle cx="1136.7" cy="423.7" r="3.9"/><circle cx="1107.5" cy="448.3" r="3.9"/><circle cx="1114.2" cy="445.0" r="3.9"/><circle cx="1119.2" cy="451.7" r="3.9"/><circle cx="1112.5" cy="455.0" r="3.9"/><circle cx="1126.3" cy="455.0" r="3.9"/><circle cx="1132.5" cy="460.0" r="3.9"/><circle cx="1119.2" cy="463.3" r="3.9"/><circle cx="1125.8" cy="462.5" r="3.9"/><circle cx="1116.3" cy="472.5" r="3.9"/><circle cx="1079.2" cy="467.0" r="3.9"/><circle cx="1101.7" cy="476.7" r="3.9"/><circle cx="1099.2" cy="475.0" r="3.9"/><circle cx="1170.0" cy="331.7" r="3.9"/><circle cx="1169.2" cy="335.8" r="3.9"/></g>
<g fill="#00aaff" stroke="#002233"><circle cx="836.3" cy="189.2" r="3.9"/><circle cx="840.8" cy="190.0" r="3.9"/><circle cx="849.2" cy="190.0" r="3.9"/><circle cx="851.7" cy="195.8" r="3.9"/><circle cx="862.5" cy="197.5" r="3.9"/><circle cx="863.3" cy="205.0" r="3.9"/><circle cx="913.3" cy="211.7" r="3.9"/><circle cx="921.7" cy="210.8" r="3.9"/><circle cx="909.2" cy="218.3" r="3.9"/><circle cx="916.7" cy="219.2" r="3.9"/><circle cx="929.2" cy="217.5" r="3.9"/><circle cx="910.0" cy="225.0" r="3.9"/><circle cx="918.3" cy="227.0" r="3.9"/><circle cx="935.8" cy="223.3" r="3.9"/><circle cx="938.3" cy="230.0" r="3.9"/><circle cx="937.5" cy="235.8" r="3.9"/><circle cx="930.0" cy="240.0" r="3.9"/><circle cx="944.2" cy="245.0" r="3.9"/><circle cx="946.3" cy="250.8" r="3.9"/><circle cx="963.0" cy="233.3" r="3.9"/><circle cx="966.7" cy="238.3" r="3.9"/><circle cx="972.2" cy="243.8" r="3.9"/><circle cx="795.8" cy="257.5" r="3.9"/><circle cx="802.5" cy="261.7" r="3.9"/><circle cx="805.0" cy="264.2" r="3.9"/><circle cx="817.0" cy="267.5" r="3.9"/><circle cx="881.3" cy="309.2" r="3.9"/><circle cx="880.0" cy="315.8" r="3.9"/><circle cx="1014.2" cy="306.3" r="3.9"/><circle cx="860.0" cy="365.8" r="3.9"/><circle cx="865.0" cy="373.3" r="3.9"/><circle cx="925.0" cy="387.5" r="3.9"/><circle cx="783.3" cy="402.5" r="3.9"/><circle cx="784.2" cy="405.8" r="3.9"/><circle cx="939.2" cy="398.8" r="3.9"/><circle cx="950.3" cy="408.3" r="3.9"/><circle cx="956.7" cy="416.7" r="3.9"/><circle cx="954.2" cy="420.0" r="3.9"/><circle cx="941.3" cy="422.0" r="3.9"/><circle cx="886.7" cy="421.7" r="3.9"/><circle cx="883.3" cy="427.5" r="3.9"/><circle cx="926.7" cy="435.8" r="3.9"/><circle cx="937.5" cy="445.8" r="3.9"/><circle cx="948.3" cy="450.8" r="3.9"/><circle cx="952.5" cy="454.2" r="3.9"/><circle cx="961.7" cy="455.0" r="3.9"/><circle cx="970.0" cy="452.5" r="3.9"/><circle cx="851.7" cy="438.3" r="3.9"/><circle cx="853.3" cy="449.2" r="3.9"/><circle cx="855.0" cy="453.3" r="3.9"/><circle cx="851.3" cy="461.7" r="3.9"/><circle cx="851.3" cy="467.5" r="3.9"/><circle cx="851.3" cy="473.3" r="3.9"/><circle cx="958.7" cy="465.8" r="3.9"/><circle cx="958.3" cy="473.3" r="3.9"/><circle cx="968.0" cy="475.8" r="3.9"/><circle cx="960.8" cy="480.8" r="3.9"/><circle cx="1045.8" cy="497.5" r="3.9"/></g>
<g fill="#0000ff" stroke="#000033"><circle cx="876.7" cy="210.3" r="3.9"/><circle cx="881.7" cy="210.8" r="3.9"/><circle cx="886.7" cy="209.7" r="3.9"/><circle cx="770.8" cy="225.0" r="3.9"/><circle cx="778.3" cy="225.8" r="3.9"/><circle cx="776.7" cy="232.5" r="3.9"/><circle cx="780.0" cy="236.7" r="3.9"/><circle cx="785.0" cy="239.7" r="3.9"/><circle cx="843.3" cy="306.7" r="3.9"/><circle cx="988.0" cy="134.2" r="3.9"/><circle cx="987.0" cy="145.0" r="3.9"/><circle cx="1007.5" cy="147.5" r="3.9"/><circle cx="1005.0" cy="150.3" r="3.9"/><circle cx="1035.3" cy="191.7" r="3.9"/><circle cx="1000.8" cy="260.8" r="3.9"/><circle cx="1005.0" cy="265.0" r="3.9"/><circle cx="1010.8" cy="268.3" r="3.9"/><circle cx="1023.0" cy="268.3" r="3.9"/><circle cx="1034.2" cy="275.8" r="3.9"/><circle cx="1037.5" cy="279.2" r="3.9"/><circle cx="1090.0" cy="279.2" r="3.9"/><circle cx="1102.5" cy="275.0" r="3.9"/><circle cx="1097.5" cy="281.7" r="3.9"/><circle cx="1109.2" cy="280.0" r="3.9"/><circle cx="1115.8" cy="282.5" r="3.9"/><circle cx="1123.3" cy="273.3" r="3.9"/><circle cx="1121.7" cy="279.2" r="3.9"/><circle cx="1127.5" cy="284.2" r="3.9"/><circle cx="1095.0" cy="289.2" r="3.9"/><circle cx="1101.7" cy="288.3" r="3.9"/><circle cx="1103.3" cy="294.2" r="3.9"/><circle cx="1135.8" cy="308.3" r="3.9"/><circle cx="1133.3" cy="314.2" r="3.9"/><circle cx="1130.8" cy="318.3" r="3.9"/><circle cx="1003.3" cy="323.3" r="3.9"/><circle cx="1010.8" cy="325.8" r="3.9"/><circle cx="1105.0" cy="325.8" r="3.9"/><circle cx="1115.0" cy="325.8" r="3.9"/><circle cx="1110.0" cy="327.0" r="3.9"/><circle cx="915.0" cy="365.0" r="3.9"/><circle cx="921.7" cy="360.8" r="3.9"/><circle cx="925.0" cy="365.0" r="3.9"/><circle cx="891.7" cy="379.2" r="3.9"/><circle cx="896.7" cy="382.5" r="3.9"/><circle cx="895.8" cy="392.5" r="3.9"/><circle cx="900.0" cy="397.5" r="3.9"/><circle cx="897.5" cy="402.5" r="3.9"/><circle cx="869.7" cy="405.0" r="3.9"/><circle cx="1135.0" cy="330.3" r="3.9"/><circle cx="1070.8" cy="332.5" r="3.9"/><circle cx="1076.7" cy="334.2" r="3.9"/><circle cx="1080.8" cy="336.7" r="3.9"/><circle cx="1092.5" cy="345.8" r="3.9"/><circle cx="1083.3" cy="348.3" r="3.9"/><circle cx="1076.7" cy="355.0" r="3.9"/><circle cx="1093.3" cy="355.8" r="3.9"/><circle cx="1088.3" cy="359.7" r="3.9"/></g>
<g fill="#aa00ff" stroke="#220033"><circle cx="833.3" cy="210.8" r="3.9"/><circle cx="836.7" cy="216.7" r="3.9"/><circle cx="838.3" cy="221.7" r="3.9"/><circle cx="837.5" cy="226.7" r="3.9"/><circle cx="818.0" cy="224.2" r="3.9"/><circle cx="814.2" cy="226.7" r="3.9"/><circle cx="809.2" cy="234.2" r="3.9"/><circle cx="812.5" cy="236.7" r="3.9"/><circle cx="870.0" cy="323.3" r="3.9"/><circle cx="1025.8" cy="259.7" r="3.9"/><circle cx="1057.5" cy="300.8" r="3.9"/><circle cx="1061.3" cy="307.5" r="3.9"/><circle cx="1069.2" cy="313.3" r="3.9"/><circle cx="1077.5" cy="315.0" r="3.9"/><circle cx="826.7" cy="343.3" r="3.9"/><circle cx="855.8" cy="331.7" r="3.9"/><circle cx="859.2" cy="337.5" r="3.9"/><circle cx="861.7" cy="341.7" r="3.9"/><circle cx="871.2" cy="327.0" r="3.9"/><circle cx="894.2" cy="332.5" r="3.9"/><circle cx="900.8" cy="333.3" r="3.9"/><circle cx="913.3" cy="336.3" r="3.9"/><circle cx="920.0" cy="338.3" r="3.9"/><circle cx="923.3" cy="341.7" r="3.9"/><circle cx="926.3" cy="348.3" r="3.9"/><circle cx="857.5" cy="380.0" r="3.9"/><circle cx="862.5" cy="379.2" r="3.9"/><circle cx="827.5" cy="392.5" r="3.9"/><circle cx="818.8" cy="399.7" r="3.9"/><circle cx="894.2" cy="434.2" r="3.9"/><circle cx="900.8" cy="431.7" r="3.9"/><circle cx="904.2" cy="439.2" r="3.9"/><circle cx="912.5" cy="445.0" r="3.9"/><circle cx="902.5" cy="457.5" r="3.9"/><circle cx="906.7" cy="459.2" r="3.9"/><circle cx="1003.8" cy="343.0" r="3.9"/><circle cx="1014.7" cy="346.3" r="3.9"/><circle cx="1020.8" cy="346.7" r="3.9"/><circle cx="1027.5" cy="345.0" r="3.9"/><circle cx="1037.0" cy="344.7" r="3.9"/><circle cx="1012.5" cy="356.7" r="3.9"/><circle cx="1028.7" cy="356.7" r="3.9"/><circle cx="1053.3" cy="332.5" r="3.9"/><circle cx="1050.0" cy="340.0" r="3.9"/><circle cx="1055.8" cy="340.0" r="3.9"/><circle cx="1049.2" cy="347.5" r="3.9"/><circle cx="1051.7" cy="354.2" r="3.9"/><circle cx="1052.5" cy="358.3" r="3.9"/><circle cx="1023.3" cy="368.3" r="3.9"/><circle cx="1026.7" cy="370.8" r="3.9"/><circle cx="1018.3" cy="379.2" r="3.9"/><circle cx="1020.8" cy="380.8" r="3.9"/><circle cx="1059.2" cy="406.7" r="3.9"/><circle cx="1064.2" cy="410.8" r="3.9"/><circle cx="1050.0" cy="458.3" r="3.9"/><circle cx="1047.5" cy="460.3" r="3.9"/><circle cx="1001.7" cy="499.7" r="3.9"/><circle cx="1005.8" cy="494.2" r="3.9"/></g>
<g fill="#ff00aa" stroke="#330022"><circle cx="897.5" cy="148.3" r="3.9"/><circle cx="905.8" cy="157.0" r="3.9"/><circle cx="816.3" cy="171.7" r="3.9"/><circle cx="820.8" cy="170.0" r="3.9"/><circle cx="825.8" cy="171.7" r="3.9"/><circle cx="824.7" cy="245.0" r="3.9"/><circle cx="793.7" cy="298.3" r="3.9"/><circle cx="800.0" cy="302.5" r="3.9"/><circle cx="806.7" cy="305.8" r="3.9"/><circle cx="812.5" cy="315.8" r="3.9"/><circle cx="805.0" cy="324.2" r="3.9"/><circle cx="815.0" cy="323.3" r="3.9"/><circle cx="820.0" cy="324.2" r="3.9"/><circle cx="1032.5" cy="299.2" r="3.9"/><circle cx="825.0" cy="330.8" r="3.9"/><circle cx="835.8" cy="334.2" r="3.9"/><circle cx="825.8" cy="338.3" r="3.9"/><circle cx="802.5" cy="345.8" r="3.9"/><circle cx="808.3" cy="343.3" r="3.9"/><circle cx="813.3" cy="347.5" r="3.9"/><circle cx="811.7" cy="353.3" r="3.9"/><circle cx="943.3" cy="368.3" r="3.9"/><circle cx="945.8" cy="374.2" r="3.9"/><circle cx="953.3" cy="373.3" r="3.9"/><circle cx="946.7" cy="383.3" r="3.9"/><circle cx="818.3" cy="426.7" r="3.9"/><circle cx="821.7" cy="426.7" r="3.9"/><circle cx="805.0" cy="453.3" r="3.9"/><circle cx="808.3" cy="449.2" r="3.9"/><circle cx="807.5" cy="457.5" r="3.9"/><circle cx="815.8" cy="450.8" r="3.9"/><circle cx="823.3" cy="449.2" r="3.9"/><circle cx="832.0" cy="452.0" r="3.9"/><circle cx="922.5" cy="488.3" r="3.9"/><circle cx="921.7" cy="491.7" r="3.9"/><circle cx="946.7" cy="500.0" r="3.9"/><circle cx="949.2" cy="501.3" r="3.9"/><circle cx="978.3" cy="483.3" r="3.9"/><circle cx="1020.5" cy="332.2" r="3.9"/><circle cx="1034.7" cy="410.3" r="3.9"/><circle cx="1025.8" cy="415.8" r="3.9"/><circle cx="1028.3" cy="420.8" r="3.9"/><circle cx="1040.0" cy="422.0" r="3.9"/><circle cx="1030.0" cy="428.3" r="3.9"/><circle cx="1029.7" cy="434.2" r="3.9"/><circle cx="1028.3" cy="440.0" r="3.9"/><circle cx="1026.7" cy="445.8" r="3.9"/><circle cx="1011.7" cy="460.8" r="3.9"/><circle cx="1021.7" cy="458.3" r="3.9"/><circle cx="1022.5" cy="462.5" r="3.9"/><circle cx="1010.0" cy="486.7" r="3.9"/><circle cx="1017.5" cy="485.0" r="3.9"/><circle cx="1014.2" cy="490.8" r="3.9"/><circle cx="1025.8" cy="487.5" r="3.9"/><circle cx="1032.5" cy="485.8" r="3.9"/><circle cx="1037.5" cy="489.2" r="3.9"/><circle cx="1031.7" cy="493.0" r="3.9"/><circle cx="1079.2" cy="503.3" r="3.9"/><circle cx="1078.3" cy="505.8" r="3.9"/></g>
</g>
<rect x="730.4" y="106.9" width="460.0000000000001" height="443.70000000000005" fill="none" stroke="#3a3a3a" stroke-width="1.7"/>
<path d="M960.4 550.6v-5.4M960.4 106.9v5.4M730.4 180.9h5.4M1190.4 180.9h-5.4M730.4 254.8h5.4M1190.4 254.8h-5.4M730.4 328.8h5.4M1190.4 328.8h-5.4M730.4 402.7h5.4M1190.4 402.7h-5.4M730.4 476.6h5.4M1190.4 476.6h-5.4" stroke="#3a3a3a" stroke-width="1.5" fill="none"/>
<text x="732.0" y="583.8" font-size="31.5" text-anchor="middle" fill="#262626">-50</text>
<text x="960.4" y="583.8" font-size="31.5" text-anchor="middle" fill="#262626">0</text>
<text x="1190.4" y="583.8" font-size="31.5" text-anchor="middle" fill="#262626">50</text>
<text x="721.9" y="114.0" font-size="31.5" text-anchor="end" fill="#262626">60</text>
<text x="713.9" y="335.9" font-size="31.5" text-anchor="end" fill="#262626">0</text>
<text x="721.9" y="557.7" font-size="31.5" text-anchor="end" fill="#262626">-60</text>
<text x="963.4" y="78.4" font-size="35.3" text-anchor="middle" fill="#000">Ctrl-Group</text>
<text x="958.9" y="627.6" font-size="34.5" text-anchor="middle" fill="#262626">Dimension 1</text>
<text transform="translate(667.4,328.8) rotate(-90)" font-size="34.5" text-anchor="middle" fill="#262626">Dimension 2</text>
<g stroke-width="2.1" filter="url(#soft)">
<g fill="#ff0000" stroke="#330000"><circle cx="262.8" cy="938.0" r="3.9"/><circle cx="387.0" cy="971.2" r="3.9"/><circle cx="394.2" cy="987.2" r="3.9"/><circle cx="394.7" cy="992.7" r="3.9"/><circle cx="439.2" cy="1065.8" r="3.9"/><circle cx="427.0" cy="1071.7" r="3.9"/><circle cx="435.8" cy="1075.0" r="3.9"/><circle cx="453.0" cy="1071.7" r="3.9"/><circle cx="462.2" cy="1063.7" r="3.9"/><circle cx="472.0" cy="1068.0" r="3.9"/><circle cx="467.0" cy="1079.2" r="3.9"/><circle cx="478.3" cy="1083.7" r="3.9"/><circle cx="447.8" cy="1083.7" r="3.9"/><circle cx="427.5" cy="1085.5" r="3.9"/><circle cx="468.0" cy="1094.2" r="3.9"/><circle cx="436.3" cy="1105.3" r="3.9"/><circle cx="463.0" cy="1107.5" r="3.9"/><circle cx="423.8" cy="1117.0" r="3.9"/><circle cx="433.0" cy="1119.7" r="3.9"/><circle cx="449.7" cy="1118.7" r="3.9"/><circle cx="468.0" cy="1119.7" r="3.9"/><circle cx="474.3" cy="1125.0" r="3.9"/><circle cx="456.2" cy="1130.0" r="3.9"/><circle cx="462.8" cy="1137.0" r="3.9"/><circle cx="438.7" cy="1140.8" r="3.9"/><circle cx="453.3" cy="1140.8" r="3.9"/><circle cx="470.0" cy="1142.5" r="3.9"/><circle cx="418.7" cy="1146.3" r="3.9"/><circle cx="417.5" cy="1159.2" r="3.9"/><circle cx="422.8" cy="1162.2" r="3.9"/></g>
<g fill="#ffaa00" stroke="#332200"><circle cx="529.7" cy="894.5" r="3.9"/><circle cx="435.5" cy="895.8" r="3.9"/><circle cx="429.2" cy="904.7" r="3.9"/><circle cx="446.7" cy="911.7" r="3.9"/><circle cx="419.2" cy="917.5" r="3.9"/><circle cx="434.5" cy="918.7" r="3.9"/><circle cx="470.8" cy="905.8" r="3.9"/><circle cx="475.0" cy="913.0" r="3.9"/><circle cx="476.3" cy="920.0" r="3.9"/><circle cx="464.5" cy="924.7" r="3.9"/><circle cx="448.8" cy="927.2" r="3.9"/><circle cx="394.2" cy="924.5" r="3.9"/><circle cx="411.2" cy="928.0" r="3.9"/><circle cx="429.5" cy="929.5" r="3.9"/><circle cx="400.8" cy="933.0" r="3.9"/><circle cx="384.7" cy="937.2" r="3.9"/><circle cx="392.0" cy="942.5" r="3.9"/><circle cx="414.2" cy="939.5" r="3.9"/><circle cx="424.2" cy="939.7" r="3.9"/><circle cx="451.7" cy="945.3" r="3.9"/><circle cx="363.8" cy="943.3" r="3.9"/><circle cx="363.0" cy="950.8" r="3.9"/><circle cx="373.3" cy="950.8" r="3.9"/><circle cx="415.0" cy="953.3" r="3.9"/><circle cx="438.0" cy="956.3" r="3.9"/><circle cx="465.8" cy="960.3" r="3.9"/><circle cx="471.3" cy="963.0" r="3.9"/><circle cx="431.2" cy="998.0" r="3.9"/><circle cx="427.0" cy="1008.3" r="3.9"/><circle cx="435.3" cy="1006.3" r="3.9"/></g>
<g fill="#aaff00" stroke="#223300"><circle cx="285.3" cy="1049.2" r="3.9"/><circle cx="280.8" cy="1060.0" r="3.9"/><circle cx="272.0" cy="1083.7" r="3.9"/><circle cx="278.3" cy="1089.7" r="3.9"/><circle cx="290.3" cy="1103.7" r="3.9"/><circle cx="285.0" cy="1113.0" r="3.9"/><circle cx="309.2" cy="1109.2" r="3.9"/><circle cx="311.7" cy="1115.3" r="3.9"/><circle cx="327.2" cy="1113.3" r="3.9"/><circle cx="325.3" cy="1128.0" r="3.9"/><circle cx="324.2" cy="1066.7" r="3.9"/><circle cx="333.8" cy="1066.7" r="3.9"/><circle cx="327.5" cy="1075.8" r="3.9"/><circle cx="335.0" cy="1084.7" r="3.9"/><circle cx="343.3" cy="1074.2" r="3.9"/><circle cx="344.2" cy="1126.7" r="3.9"/><circle cx="303.8" cy="1160.8" r="3.9"/><circle cx="303.8" cy="1165.0" r="3.9"/><circle cx="368.7" cy="1070.0" r="3.9"/><circle cx="380.0" cy="1065.8" r="3.9"/><circle cx="378.3" cy="1075.0" r="3.9"/><circle cx="389.2" cy="1075.5" r="3.9"/><circle cx="369.7" cy="1082.5" r="3.9"/><circle cx="358.7" cy="1087.0" r="3.9"/><circle cx="382.5" cy="1087.0" r="3.9"/><circle cx="373.8" cy="1101.7" r="3.9"/><circle cx="357.0" cy="1110.0" r="3.9"/><circle cx="366.2" cy="1116.7" r="3.9"/><circle cx="352.8" cy="1120.0" r="3.9"/><circle cx="359.7" cy="1128.3" r="3.9"/></g>
<g fill="#00ff00" stroke="#003300"><circle cx="317.5" cy="798.3" r="3.9"/><circle cx="315.3" cy="807.5" r="3.9"/><circle cx="328.7" cy="807.5" r="3.9"/><circle cx="311.7" cy="815.3" r="3.9"/><circle cx="332.0" cy="817.5" r="3.9"/><circle cx="324.2" cy="821.3" r="3.9"/><circle cx="313.7" cy="846.3" r="3.9"/><circle cx="320.0" cy="849.2" r="3.9"/><circle cx="333.0" cy="851.3" r="3.9"/><circle cx="343.3" cy="854.7" r="3.9"/><circle cx="312.0" cy="868.3" r="3.9"/><circle cx="316.3" cy="883.3" r="3.9"/><circle cx="303.3" cy="889.2" r="3.9"/><circle cx="344.2" cy="875.8" r="3.9"/><circle cx="342.5" cy="888.3" r="3.9"/><circle cx="294.2" cy="899.7" r="3.9"/><circle cx="302.0" cy="899.7" r="3.9"/><circle cx="318.3" cy="902.0" r="3.9"/><circle cx="327.0" cy="906.7" r="3.9"/><circle cx="312.0" cy="913.0" r="3.9"/><circle cx="282.8" cy="919.7" r="3.9"/><circle cx="295.8" cy="923.0" r="3.9"/><circle cx="290.8" cy="932.0" r="3.9"/><circle cx="303.8" cy="933.3" r="3.9"/><circle cx="296.3" cy="941.7" r="3.9"/><circle cx="305.0" cy="945.8" r="3.9"/><circle cx="352.5" cy="825.8" r="3.9"/><circle cx="360.0" cy="829.7" r="3.9"/><circle cx="368.0" cy="830.8" r="3.9"/><circle cx="347.5" cy="885.3" r="3.9"/></g>
<g fill="#00ffaa" stroke="#003322"><circle cx="297.8" cy="956.3" r="3.9"/><circle cx="441.7" cy="792.5" r="3.9"/><circle cx="448.0" cy="792.5" r="3.9"/><circle cx="450.3" cy="803.3" r="3.9"/><circle cx="463.3" cy="798.0" r="3.9"/><circle cx="481.3" cy="804.2" r="3.9"/><circle cx="498.0" cy="808.3" r="3.9"/><circle cx="505.0" cy="820.8" r="3.9"/><circle cx="511.7" cy="832.5" r="3.9"/><circle cx="515.0" cy="842.5" r="3.9"/><circle cx="469.2" cy="816.3" r="3.9"/><circle cx="482.0" cy="819.2" r="3.9"/><circle cx="457.5" cy="826.7" r="3.9"/><circle cx="473.7" cy="836.3" r="3.9"/><circle cx="487.0" cy="835.0" r="3.9"/><circle cx="480.3" cy="840.8" r="3.9"/><circle cx="435.3" cy="820.8" r="3.9"/><circle cx="440.8" cy="829.7" r="3.9"/><circle cx="433.7" cy="836.3" r="3.9"/><circle cx="441.7" cy="843.7" r="3.9"/><circle cx="439.7" cy="853.3" r="3.9"/><circle cx="527.2" cy="850.0" r="3.9"/><circle cx="530.8" cy="859.7" r="3.9"/><circle cx="519.7" cy="860.0" r="3.9"/><circle cx="509.7" cy="860.0" r="3.9"/><circle cx="501.7" cy="863.7" r="3.9"/><circle cx="485.8" cy="860.5" r="3.9"/><circle cx="520.5" cy="870.8" r="3.9"/><circle cx="509.7" cy="873.3" r="3.9"/><circle cx="524.7" cy="878.7" r="3.9"/></g>
<g fill="#00aaff" stroke="#002233"><circle cx="188.3" cy="1098.0" r="3.9"/><circle cx="205.0" cy="1095.0" r="3.9"/><circle cx="207.0" cy="1104.2" r="3.9"/><circle cx="215.3" cy="1102.5" r="3.9"/><circle cx="162.5" cy="1104.7" r="3.9"/><circle cx="172.5" cy="1107.0" r="3.9"/><circle cx="184.2" cy="1109.7" r="3.9"/><circle cx="155.3" cy="1117.0" r="3.9"/><circle cx="160.0" cy="1125.8" r="3.9"/><circle cx="178.8" cy="1125.8" r="3.9"/><circle cx="196.3" cy="1117.8" r="3.9"/><circle cx="207.8" cy="1116.2" r="3.9"/><circle cx="224.7" cy="1121.2" r="3.9"/><circle cx="163.3" cy="1140.3" r="3.9"/><circle cx="168.8" cy="1150.0" r="3.9"/><circle cx="187.5" cy="1145.3" r="3.9"/><circle cx="197.8" cy="1144.7" r="3.9"/><circle cx="212.0" cy="1144.2" r="3.9"/><circle cx="230.8" cy="1138.3" r="3.9"/><circle cx="226.3" cy="1147.0" r="3.9"/><circle cx="183.3" cy="1155.8" r="3.9"/><circle cx="193.8" cy="1155.3" r="3.9"/><circle cx="159.2" cy="1161.7" r="3.9"/><circle cx="168.8" cy="1168.0" r="3.9"/><circle cx="162.5" cy="1175.0" r="3.9"/><circle cx="180.0" cy="1178.3" r="3.9"/><circle cx="190.0" cy="1174.2" r="3.9"/><circle cx="217.0" cy="1170.3" r="3.9"/><circle cx="222.8" cy="1166.3" r="3.9"/><circle cx="170.5" cy="1189.7" r="3.9"/></g>
<g fill="#0000ff" stroke="#000033"><circle cx="336.3" cy="925.8" r="3.9"/><circle cx="329.2" cy="935.0" r="3.9"/><circle cx="319.2" cy="946.7" r="3.9"/><circle cx="327.5" cy="947.2" r="3.9"/><circle cx="333.3" cy="976.3" r="3.9"/><circle cx="338.7" cy="975.8" r="3.9"/><circle cx="256.7" cy="988.3" r="3.9"/><circle cx="263.7" cy="986.3" r="3.9"/><circle cx="273.7" cy="989.2" r="3.9"/><circle cx="342.5" cy="991.7" r="3.9"/><circle cx="379.2" cy="864.2" r="3.9"/><circle cx="370.0" cy="875.8" r="3.9"/><circle cx="384.7" cy="874.2" r="3.9"/><circle cx="377.5" cy="879.7" r="3.9"/><circle cx="374.2" cy="889.2" r="3.9"/><circle cx="371.3" cy="899.2" r="3.9"/><circle cx="349.2" cy="989.2" r="3.9"/><circle cx="264.2" cy="996.3" r="3.9"/><circle cx="304.2" cy="1000.3" r="3.9"/><circle cx="295.3" cy="1008.0" r="3.9"/><circle cx="313.3" cy="1015.3" r="3.9"/><circle cx="302.8" cy="1019.7" r="3.9"/><circle cx="326.3" cy="1003.8" r="3.9"/><circle cx="329.2" cy="1015.8" r="3.9"/><circle cx="338.7" cy="1005.8" r="3.9"/><circle cx="341.7" cy="994.2" r="3.9"/><circle cx="344.2" cy="1020.8" r="3.9"/><circle cx="347.2" cy="1005.8" r="3.9"/><circle cx="357.5" cy="1008.3" r="3.9"/><circle cx="355.8" cy="1025.0" r="3.9"/><circle cx="367.0" cy="1024.2" r="3.9"/></g>
<g fill="#aa00ff" stroke="#220033"><circle cx="191.7" cy="829.5" r="3.9"/><circle cx="194.7" cy="833.3" r="3.9"/><circle cx="203.7" cy="848.7" r="3.9"/><circle cx="208.0" cy="861.2" r="3.9"/><circle cx="220.3" cy="866.7" r="3.9"/><circle cx="228.7" cy="874.7" r="3.9"/><circle cx="221.7" cy="885.0" r="3.9"/><circle cx="220.8" cy="894.2" r="3.9"/><circle cx="231.3" cy="842.5" r="3.9"/><circle cx="242.5" cy="843.0" r="3.9"/><circle cx="230.3" cy="853.0" r="3.9"/><circle cx="245.0" cy="855.3" r="3.9"/><circle cx="252.8" cy="848.0" r="3.9"/><circle cx="264.2" cy="840.8" r="3.9"/><circle cx="274.2" cy="843.3" r="3.9"/><circle cx="271.7" cy="853.3" r="3.9"/><circle cx="264.2" cy="859.2" r="3.9"/><circle cx="243.3" cy="876.7" r="3.9"/><circle cx="254.5" cy="880.5" r="3.9"/><circle cx="185.0" cy="867.5" r="3.9"/><circle cx="193.3" cy="865.8" r="3.9"/><circle cx="179.2" cy="875.8" r="3.9"/><circle cx="194.7" cy="878.0" r="3.9"/><circle cx="187.2" cy="884.2" r="3.9"/><circle cx="226.2" cy="913.0" r="3.9"/><circle cx="227.2" cy="924.2" r="3.9"/><circle cx="225.3" cy="946.3" r="3.9"/><circle cx="231.3" cy="957.5" r="3.9"/><circle cx="226.7" cy="963.3" r="3.9"/><circle cx="237.5" cy="965.0" r="3.9"/></g>
<g fill="#ff00aa" stroke="#330022"><circle cx="143.7" cy="963.3" r="3.9"/><circle cx="140.8" cy="970.8" r="3.9"/><circle cx="150.8" cy="973.3" r="3.9"/><circle cx="150.0" cy="983.0" r="3.9"/><circle cx="155.3" cy="989.2" r="3.9"/><circle cx="169.2" cy="998.3" r="3.9"/><circle cx="150.8" cy="1011.3" r="3.9"/><circle cx="158.7" cy="1011.3" r="3.9"/><circle cx="161.3" cy="1020.3" r="3.9"/><circle cx="179.2" cy="1011.7" r="3.9"/><circle cx="186.3" cy="1013.0" r="3.9"/><circle cx="178.7" cy="1030.8" r="3.9"/><circle cx="189.5" cy="1033.8" r="3.9"/><circle cx="201.7" cy="1035.0" r="3.9"/><circle cx="208.0" cy="1043.0" r="3.9"/><circle cx="175.8" cy="1048.0" r="3.9"/><circle cx="189.7" cy="1049.2" r="3.9"/><circle cx="197.2" cy="1063.7" r="3.9"/><circle cx="138.3" cy="1056.7" r="3.9"/><circle cx="147.5" cy="1056.7" r="3.9"/><circle cx="156.3" cy="1059.2" r="3.9"/><circle cx="138.7" cy="1065.3" r="3.9"/><circle cx="152.5" cy="1067.8" r="3.9"/><circle cx="165.3" cy="1072.5" r="3.9"/><circle cx="142.0" cy="1076.7" r="3.9"/><circle cx="237.5" cy="1055.0" r="3.9"/><circle cx="246.3" cy="1051.7" r="3.9"/><circle cx="230.0" cy="1063.7" r="3.9"/><circle cx="244.2" cy="1063.0" r="3.9"/><circle cx="255.3" cy="1062.5" r="3.9"/></g>
</g>
<rect x="90.8" y="759.2" width="460.2" height="443.39999999999986" fill="none" stroke="#3a3a3a" stroke-width="1.7"/>
<path d="M167.5 1202.6v-5.4M167.5 759.2v5.4M244.2 1202.6v-5.4M244.2 759.2v5.4M320.9 1202.6v-5.4M320.9 759.2v5.4M397.6 1202.6v-5.4M397.6 759.2v5.4M474.3 1202.6v-5.4M474.3 759.2v5.4M90.8 803.5h5.4M551 803.5h-5.4M90.8 847.9h5.4M551 847.9h-5.4M90.8 892.2h5.4M551 892.2h-5.4M90.8 936.6h5.4M551 936.6h-5.4M90.8 980.9h5.4M551 980.9h-5.4M90.8 1025.2h5.4M551 1025.2h-5.4M90.8 1069.6h5.4M551 1069.6h-5.4M90.8 1113.9h5.4M551 1113.9h-5.4M90.8 1158.3h5.4M551 1158.3h-5.4" stroke="#3a3a3a" stroke-width="1.5" fill="none"/>
<text x="92.4" y="1235.8" font-size="31.5" text-anchor="middle" fill="#262626">-30</text>
<text x="320.9" y="1235.8" font-size="31.5" text-anchor="middle" fill="#262626">0</text>
<text x="551.0" y="1235.8" font-size="31.5" text-anchor="middle" fill="#262626">30</text>
<text x="82.3" y="766.3" font-size="31.5" text-anchor="end" fill="#262626">25</text>
<text x="74.3" y="988.0" font-size="31.5" text-anchor="end" fill="#262626">0</text>
<text x="82.3" y="1209.7" font-size="31.5" text-anchor="end" fill="#262626">-25</text>
<text x="315.9" y="730.7" font-size="35.3" text-anchor="middle" fill="#000">Meta-Group</text>
<text x="319.4" y="1279.6" font-size="34.5" text-anchor="middle" fill="#262626">Dimension 1</text>
<text transform="translate(27.799999999999997,980.9) rotate(-90)" font-size="34.5" text-anchor="middle" fill="#262626">Dimension 2</text>
<g stroke-width="2.1" filter="url(#soft)">
<g fill="#ff0000" stroke="#330000"><circle cx="1133.3" cy="825.5" r="3.9"/><circle cx="1129.7" cy="835.8" r="3.9"/><circle cx="1123.3" cy="847.2" r="3.9"/><circle cx="1115.3" cy="849.7" r="3.9"/><circle cx="1111.2" cy="861.3" r="3.9"/><circle cx="1067.0" cy="851.3" r="3.9"/><circle cx="1067.8" cy="858.0" r="3.9"/><circle cx="1024.5" cy="870.0" r="3.9"/><circle cx="1029.2" cy="875.0" r="3.9"/><circle cx="1064.7" cy="878.0" r="3.9"/><circle cx="1083.0" cy="881.2" r="3.9"/><circle cx="1076.7" cy="887.5" r="3.9"/><circle cx="1092.8" cy="875.5" r="3.9"/><circle cx="1113.3" cy="876.3" r="3.9"/><circle cx="1128.0" cy="875.8" r="3.9"/><circle cx="1138.0" cy="870.8" r="3.9"/><circle cx="1100.0" cy="886.7" r="3.9"/><circle cx="1111.7" cy="889.2" r="3.9"/><circle cx="1103.8" cy="896.7" r="3.9"/><circle cx="1130.0" cy="893.3" r="3.9"/><circle cx="1143.0" cy="897.5" r="3.9"/><circle cx="1155.0" cy="898.8" r="3.9"/><circle cx="1130.3" cy="908.0" r="3.9"/><circle cx="1146.7" cy="918.7" r="3.9"/><circle cx="1136.3" cy="921.3" r="3.9"/><circle cx="1133.7" cy="933.0" r="3.9"/><circle cx="1140.0" cy="941.3" r="3.9"/><circle cx="929.5" cy="1109.2" r="3.9"/><circle cx="926.7" cy="1115.8" r="3.9"/><circle cx="1007.0" cy="992.5" r="3.9"/></g>
<g fill="#ffaa00" stroke="#332200"><circle cx="855.0" cy="973.3" r="3.9"/><circle cx="861.7" cy="979.5" r="3.9"/><circle cx="849.5" cy="988.0" r="3.9"/><circle cx="863.3" cy="989.2" r="3.9"/><circle cx="950.0" cy="975.8" r="3.9"/><circle cx="955.0" cy="977.5" r="3.9"/><circle cx="965.8" cy="985.8" r="3.9"/><circle cx="870.8" cy="997.5" r="3.9"/><circle cx="829.7" cy="999.7" r="3.9"/><circle cx="816.7" cy="1004.7" r="3.9"/><circle cx="840.8" cy="1003.7" r="3.9"/><circle cx="825.8" cy="1008.3" r="3.9"/><circle cx="900.0" cy="1002.5" r="3.9"/><circle cx="874.2" cy="1011.7" r="3.9"/><circle cx="850.5" cy="1015.0" r="3.9"/><circle cx="888.0" cy="1021.7" r="3.9"/><circle cx="864.2" cy="1043.3" r="3.9"/><circle cx="869.7" cy="1044.7" r="3.9"/><circle cx="904.2" cy="1134.5" r="3.9"/><circle cx="914.2" cy="1135.8" r="3.9"/><circle cx="906.7" cy="1156.3" r="3.9"/><circle cx="973.3" cy="998.7" r="3.9"/><circle cx="963.3" cy="1003.3" r="3.9"/><circle cx="965.0" cy="1013.7" r="3.9"/><circle cx="1030.8" cy="1072.0" r="3.9"/><circle cx="1032.0" cy="1079.2" r="3.9"/><circle cx="1033.3" cy="1090.8" r="3.9"/><circle cx="1044.7" cy="1102.2" r="3.9"/><circle cx="1011.7" cy="1113.0" r="3.9"/><circle cx="1019.5" cy="1110.8" r="3.9"/></g>
<g fill="#aaff00" stroke="#223300"><circle cx="781.2" cy="1030.3" r="3.9"/><circle cx="794.5" cy="1038.0" r="3.9"/><circle cx="792.0" cy="1044.5" r="3.9"/><circle cx="821.3" cy="1029.2" r="3.9"/><circle cx="762.0" cy="1065.0" r="3.9"/><circle cx="768.7" cy="1065.0" r="3.9"/><circle cx="832.0" cy="1063.7" r="3.9"/><circle cx="810.3" cy="1072.8" r="3.9"/><circle cx="817.8" cy="1077.5" r="3.9"/><circle cx="820.8" cy="1087.0" r="3.9"/><circle cx="844.7" cy="1076.7" r="3.9"/><circle cx="838.3" cy="1084.5" r="3.9"/><circle cx="857.2" cy="1078.3" r="3.9"/><circle cx="853.8" cy="1090.8" r="3.9"/><circle cx="869.2" cy="1095.3" r="3.9"/><circle cx="880.5" cy="1096.7" r="3.9"/><circle cx="891.3" cy="1107.2" r="3.9"/><circle cx="812.8" cy="1115.0" r="3.9"/><circle cx="817.2" cy="1117.2" r="3.9"/><circle cx="935.8" cy="1057.0" r="3.9"/><circle cx="953.3" cy="1051.7" r="3.9"/><circle cx="950.3" cy="1066.3" r="3.9"/><circle cx="994.2" cy="1018.8" r="3.9"/><circle cx="995.8" cy="1029.7" r="3.9"/><circle cx="1006.7" cy="1029.2" r="3.9"/><circle cx="1004.2" cy="1040.0" r="3.9"/><circle cx="1015.0" cy="1040.0" r="3.9"/><circle cx="977.0" cy="1047.5" r="3.9"/><circle cx="988.3" cy="1044.2" r="3.9"/><circle cx="985.3" cy="1053.0" r="3.9"/></g>
<g fill="#00ff00" stroke="#003300"><circle cx="828.0" cy="799.2" r="3.9"/><circle cx="834.5" cy="804.7" r="3.9"/><circle cx="828.3" cy="810.3" r="3.9"/><circle cx="813.3" cy="843.3" r="3.9"/><circle cx="813.0" cy="853.0" r="3.9"/><circle cx="826.7" cy="862.5" r="3.9"/><circle cx="803.0" cy="872.5" r="3.9"/><circle cx="820.8" cy="876.3" r="3.9"/><circle cx="812.0" cy="881.2" r="3.9"/><circle cx="834.5" cy="880.0" r="3.9"/><circle cx="827.2" cy="888.8" r="3.9"/><circle cx="795.0" cy="885.0" r="3.9"/><circle cx="801.7" cy="892.5" r="3.9"/><circle cx="860.8" cy="869.2" r="3.9"/><circle cx="863.3" cy="876.3" r="3.9"/><circle cx="879.5" cy="891.7" r="3.9"/><circle cx="828.3" cy="910.0" r="3.9"/><circle cx="835.8" cy="915.3" r="3.9"/><circle cx="854.7" cy="918.3" r="3.9"/><circle cx="869.7" cy="940.8" r="3.9"/><circle cx="897.2" cy="1050.8" r="3.9"/><circle cx="900.8" cy="1067.8" r="3.9"/><circle cx="895.8" cy="1148.3" r="3.9"/><circle cx="1104.2" cy="1029.2" r="3.9"/><circle cx="1109.7" cy="1026.3" r="3.9"/><circle cx="988.3" cy="1124.2" r="3.9"/><circle cx="987.5" cy="1130.5" r="3.9"/><circle cx="1001.2" cy="1141.2" r="3.9"/><circle cx="978.7" cy="1154.7" r="3.9"/><circle cx="988.0" cy="1153.0" r="3.9"/></g>
<g fill="#00ffaa" stroke="#003322"><circle cx="1076.7" cy="920.0" r="3.9"/><circle cx="979.2" cy="960.0" r="3.9"/><circle cx="984.7" cy="967.2" r="3.9"/><circle cx="988.8" cy="973.3" r="3.9"/><circle cx="1073.0" cy="987.5" r="3.9"/><circle cx="915.8" cy="1023.7" r="3.9"/><circle cx="891.7" cy="1085.8" r="3.9"/><circle cx="1032.2" cy="1004.2" r="3.9"/><circle cx="1042.0" cy="1003.0" r="3.9"/><circle cx="1053.0" cy="1001.7" r="3.9"/><circle cx="1059.7" cy="998.0" r="3.9"/><circle cx="1044.7" cy="1042.5" r="3.9"/><circle cx="1053.3" cy="1042.0" r="3.9"/><circle cx="1064.7" cy="1050.5" r="3.9"/><circle cx="1076.3" cy="1062.8" r="3.9"/><circle cx="1081.7" cy="1070.0" r="3.9"/><circle cx="1091.7" cy="1082.0" r="3.9"/><circle cx="1081.7" cy="1089.5" r="3.9"/><circle cx="1088.0" cy="1095.5" r="3.9"/><circle cx="1114.2" cy="1099.7" r="3.9"/><circle cx="1103.3" cy="1104.5" r="3.9"/><circle cx="1119.5" cy="1111.7" r="3.9"/><circle cx="1110.8" cy="1117.8" r="3.9"/><circle cx="1132.0" cy="1115.3" r="3.9"/><circle cx="1140.3" cy="1123.3" r="3.9"/><circle cx="1131.7" cy="1129.2" r="3.9"/><circle cx="1120.3" cy="1131.7" r="3.9"/><circle cx="1128.3" cy="1144.2" r="3.9"/><circle cx="1162.5" cy="1096.3" r="3.9"/><circle cx="1168.2" cy="1091.5" r="3.9"/></g>
<g fill="#00aaff" stroke="#002233"><circle cx="776.3" cy="929.5" r="3.9"/><circle cx="788.3" cy="935.8" r="3.9"/><circle cx="764.2" cy="940.8" r="3.9"/><circle cx="781.7" cy="944.2" r="3.9"/><circle cx="792.2" cy="948.3" r="3.9"/><circle cx="750.8" cy="948.0" r="3.9"/><circle cx="772.0" cy="955.0" r="3.9"/><circle cx="755.0" cy="958.7" r="3.9"/><circle cx="777.5" cy="963.0" r="3.9"/><circle cx="790.3" cy="961.7" r="3.9"/><circle cx="738.3" cy="967.5" r="3.9"/><circle cx="750.0" cy="967.8" r="3.9"/><circle cx="752.2" cy="983.7" r="3.9"/><circle cx="828.0" cy="950.0" r="3.9"/><circle cx="822.2" cy="957.0" r="3.9"/><circle cx="843.0" cy="946.2" r="3.9"/><circle cx="880.5" cy="972.8" r="3.9"/><circle cx="909.5" cy="1073.3" r="3.9"/><circle cx="922.0" cy="1085.0" r="3.9"/><circle cx="939.2" cy="1192.8" r="3.9"/><circle cx="949.2" cy="1192.8" r="3.9"/><circle cx="955.0" cy="1170.8" r="3.9"/><circle cx="1079.7" cy="1032.0" r="3.9"/><circle cx="993.3" cy="1079.7" r="3.9"/><circle cx="990.3" cy="1090.0" r="3.9"/><circle cx="983.7" cy="1097.8" r="3.9"/><circle cx="968.7" cy="1121.3" r="3.9"/><circle cx="967.0" cy="1132.5" r="3.9"/><circle cx="964.5" cy="1175.8" r="3.9"/><circle cx="960.3" cy="1189.2" r="3.9"/></g>
<g fill="#0000ff" stroke="#000033"><circle cx="929.5" cy="795.8" r="3.9"/><circle cx="952.5" cy="803.0" r="3.9"/><circle cx="927.5" cy="817.0" r="3.9"/><circle cx="920.8" cy="824.2" r="3.9"/><circle cx="920.0" cy="833.7" r="3.9"/><circle cx="838.0" cy="850.0" r="3.9"/><circle cx="908.8" cy="854.5" r="3.9"/><circle cx="960.3" cy="808.0" r="3.9"/><circle cx="972.5" cy="812.5" r="3.9"/><circle cx="982.5" cy="810.0" r="3.9"/><circle cx="990.8" cy="800.0" r="3.9"/><circle cx="999.7" cy="810.8" r="3.9"/><circle cx="1010.8" cy="807.0" r="3.9"/><circle cx="961.3" cy="821.7" r="3.9"/><circle cx="994.2" cy="826.3" r="3.9"/><circle cx="1003.0" cy="823.3" r="3.9"/><circle cx="1010.5" cy="830.5" r="3.9"/><circle cx="975.5" cy="916.7" r="3.9"/><circle cx="978.0" cy="925.0" r="3.9"/><circle cx="971.7" cy="931.7" r="3.9"/><circle cx="1079.2" cy="942.8" r="3.9"/><circle cx="1097.0" cy="950.8" r="3.9"/><circle cx="1068.0" cy="953.3" r="3.9"/><circle cx="1064.2" cy="960.8" r="3.9"/><circle cx="1075.3" cy="963.0" r="3.9"/><circle cx="1091.7" cy="960.5" r="3.9"/><circle cx="1026.7" cy="966.3" r="3.9"/><circle cx="1036.3" cy="963.7" r="3.9"/><circle cx="1046.2" cy="963.0" r="3.9"/><circle cx="1036.2" cy="1184.7" r="3.9"/></g>
<g fill="#aa00ff" stroke="#220033"><circle cx="884.7" cy="921.7" r="3.9"/><circle cx="902.5" cy="917.5" r="3.9"/><circle cx="909.7" cy="921.7" r="3.9"/><circle cx="888.3" cy="937.0" r="3.9"/><circle cx="892.5" cy="944.2" r="3.9"/><circle cx="928.3" cy="934.2" r="3.9"/><circle cx="933.7" cy="931.3" r="3.9"/><circle cx="919.2" cy="943.3" r="3.9"/><circle cx="945.3" cy="938.3" r="3.9"/><circle cx="944.7" cy="954.2" r="3.9"/><circle cx="909.5" cy="958.7" r="3.9"/><circle cx="913.3" cy="968.3" r="3.9"/><circle cx="923.7" cy="981.2" r="3.9"/><circle cx="928.3" cy="991.7" r="3.9"/><circle cx="1010.0" cy="914.2" r="3.9"/><circle cx="1019.2" cy="910.0" r="3.9"/><circle cx="1026.2" cy="919.7" r="3.9"/><circle cx="1041.3" cy="926.7" r="3.9"/><circle cx="1034.7" cy="932.0" r="3.9"/><circle cx="1045.0" cy="939.2" r="3.9"/><circle cx="1019.2" cy="935.0" r="3.9"/><circle cx="1007.8" cy="936.7" r="3.9"/><circle cx="999.2" cy="940.0" r="3.9"/><circle cx="924.2" cy="998.0" r="3.9"/><circle cx="934.2" cy="1018.0" r="3.9"/><circle cx="940.8" cy="1026.7" r="3.9"/><circle cx="929.2" cy="1032.5" r="3.9"/><circle cx="928.3" cy="1043.3" r="3.9"/><circle cx="953.3" cy="1113.3" r="3.9"/><circle cx="901.3" cy="1164.2" r="3.9"/></g>
<g fill="#ff00aa" stroke="#330022"><circle cx="948.7" cy="862.5" r="3.9"/><circle cx="947.2" cy="870.8" r="3.9"/><circle cx="908.3" cy="875.8" r="3.9"/><circle cx="918.7" cy="880.5" r="3.9"/><circle cx="933.7" cy="889.5" r="3.9"/><circle cx="914.2" cy="899.2" r="3.9"/><circle cx="942.0" cy="904.2" r="3.9"/><circle cx="949.2" cy="906.7" r="3.9"/><circle cx="959.7" cy="862.0" r="3.9"/><circle cx="966.7" cy="866.3" r="3.9"/><circle cx="980.0" cy="879.7" r="3.9"/><circle cx="975.0" cy="890.0" r="3.9"/><circle cx="965.3" cy="893.0" r="3.9"/><circle cx="960.3" cy="903.8" r="3.9"/><circle cx="993.7" cy="887.5" r="3.9"/><circle cx="995.5" cy="895.0" r="3.9"/><circle cx="950.3" cy="1080.0" r="3.9"/><circle cx="954.2" cy="1088.3" r="3.9"/><circle cx="942.5" cy="1146.7" r="3.9"/><circle cx="939.2" cy="1151.2" r="3.9"/><circle cx="1132.8" cy="995.8" r="3.9"/><circle cx="1141.7" cy="1006.3" r="3.9"/><circle cx="1150.3" cy="1013.7" r="3.9"/><circle cx="1161.7" cy="1016.3" r="3.9"/><circle cx="1157.0" cy="1026.7" r="3.9"/><circle cx="1164.2" cy="1028.7" r="3.9"/><circle cx="966.3" cy="1086.2" r="3.9"/><circle cx="1053.7" cy="1131.3" r="3.9"/><circle cx="1058.7" cy="1134.2" r="3.9"/><circle cx="1025.3" cy="1149.2" r="3.9"/></g>
</g>
<rect x="730.4" y="759.2" width="460.1" height="443.39999999999986" fill="none" stroke="#3a3a3a" stroke-width="1.7"/>
<path d="M744.5 1202.6v-5.4M744.5 759.2v5.4M816.4 1202.6v-5.4M816.4 759.2v5.4M888.3 1202.6v-5.4M888.3 759.2v5.4M960.2 1202.6v-5.4M960.2 759.2v5.4M1032.2 1202.6v-5.4M1032.2 759.2v5.4M1104.1 1202.6v-5.4M1104.1 759.2v5.4M1176.0 1202.6v-5.4M1176.0 759.2v5.4M730.4 773.0h5.4M1190.5 773.0h-5.4M730.4 842.4h5.4M1190.5 842.4h-5.4M730.4 911.7h5.4M1190.5 911.7h-5.4M730.4 981.1h5.4M1190.5 981.1h-5.4M730.4 1050.5h5.4M1190.5 1050.5h-5.4M730.4 1119.8h5.4M1190.5 1119.8h-5.4M730.4 1189.2h5.4M1190.5 1189.2h-5.4" stroke="#3a3a3a" stroke-width="1.5" fill="none"/>
<text x="743.7" y="1235.8" font-size="31.5" text-anchor="middle" fill="#262626">-30</text>
<text x="961.1" y="1235.8" font-size="31.5" text-anchor="middle" fill="#262626">0</text>
<text x="1178.5" y="1235.8" font-size="31.5" text-anchor="middle" fill="#262626">30</text>
<text x="721.9" y="782.1" font-size="31.5" text-anchor="end" fill="#262626">30</text>
<text x="713.9" y="988.2" font-size="31.5" text-anchor="end" fill="#262626">0</text>
<text x="721.9" y="1198.3" font-size="31.5" text-anchor="end" fill="#262626">-30</text>
<text x="963.5" y="730.7" font-size="35.3" text-anchor="middle" fill="#000">Ctrl-Group</text>
<text x="959.0" y="1279.6" font-size="34.5" text-anchor="middle" fill="#262626">Dimension 1</text>
<text transform="translate(667.4,980.9) rotate(-90)" font-size="34.5" text-anchor="middle" fill="#262626">Dimension 2</text>
<rect x="1279.5" y="379.60" width="23.0" height="61.67" fill="#ff00aa"/>
<rect x="1279.5" y="440.77" width="23.0" height="61.67" fill="#aa00ff"/>
<rect x="1279.5" y="501.93" width="23.0" height="61.67" fill="#0000ff"/>
<rect x="1279.5" y="563.10" width="23.0" height="61.67" fill="#00aaff"/>
<rect x="1279.5" y="624.27" width="23.0" height="61.67" fill="#00ffaa"/>
<rect x="1279.5" y="685.43" width="23.0" height="61.67" fill="#00ff00"/>
<rect x="1279.5" y="746.60" width="23.0" height="61.67" fill="#aaff00"/>
<rect x="1279.5" y="807.77" width="23.0" height="61.67" fill="#ffaa00"/>
<rect x="1279.5" y="868.93" width="23.0" height="61.67" fill="#ff0000"/>
<rect x="1279.5" y="379.6" width="23.0" height="550.5" fill="none" stroke="#3a1030" stroke-width="1.3"/>
<text x="1331.3" y="419.2" font-size="35.5" text-anchor="middle" fill="#262626">9</text>
<text x="1331.3" y="480.4" font-size="35.5" text-anchor="middle" fill="#262626">8</text>
<text x="1331.3" y="541.5" font-size="35.5" text-anchor="middle" fill="#262626">7</text>
<text x="1331.3" y="602.7" font-size="35.5" text-anchor="middle" fill="#262626">6</text>
<text x="1331.3" y="663.9" font-size="35.5" text-anchor="middle" fill="#262626">5</text>
<text x="1331.3" y="725.0" font-size="35.5" text-anchor="middle" fill="#262626">4</text>
<text x="1331.3" y="786.2" font-size="35.5" text-anchor="middle" fill="#262626">3</text>
<text x="1331.3" y="847.4" font-size="35.5" text-anchor="middle" fill="#262626">2</text>
<text x="1331.3" y="908.5" font-size="35.5" text-anchor="middle" fill="#262626">1</text>
<text x="1314.3" y="975.2" font-size="35.5" text-anchor="middle" fill="#262626">Area</text>
<text transform="translate(0,34.3) scale(1.1,1.03)" font-size="46" font-weight="bold" fill="#222">A</text>
<text transform="translate(0,687.8) scale(1.06,1.03)" font-size="46" font-weight="bold" fill="#222">B</text>
</svg>
</body></html>
